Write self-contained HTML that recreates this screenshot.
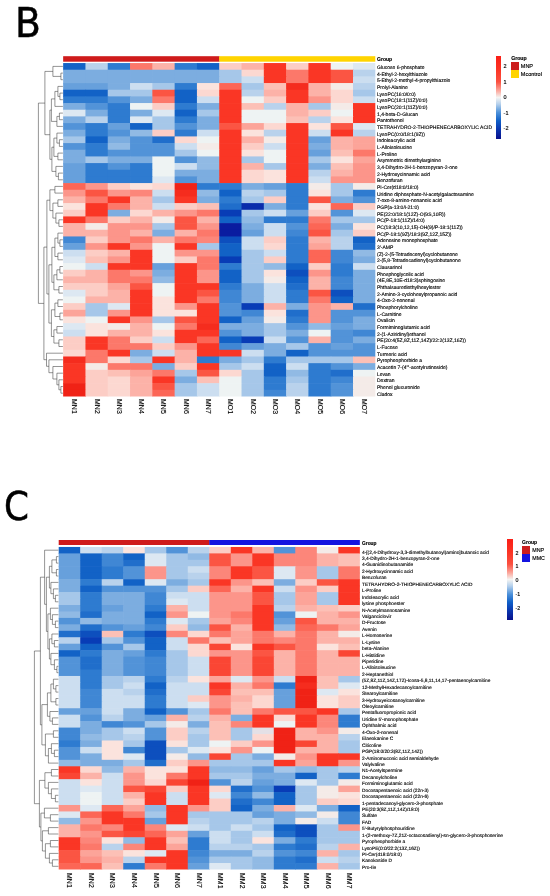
<!DOCTYPE html><html><head><meta charset="utf-8"><title>Heatmaps</title><style>
html,body{margin:0;padding:0;background:#fff}
body{width:550px;height:896px;position:relative;overflow:hidden;font-family:"Liberation Sans",sans-serif;color:#111}
.gb,.hm,.dn,.rl,.gl,.cl,.lg,.tk,.gt,.sw,.big{position:absolute}
.dn{left:0;top:0;pointer-events:none}
.rl div{white-space:nowrap;height:inherit}
.rl{white-space:nowrap;color:#000;-webkit-text-stroke:0.5px #000}.gl{white-space:nowrap;color:#000;-webkit-text-stroke:0.15px #000}
.gl,.gt{font-weight:bold;color:#000}
.cl{white-space:nowrap;line-height:8px;height:8px;transform-origin:0 0;transform:rotate(90deg) translate(0,-4px);color:#000;-webkit-text-stroke:0.12px #000}
.tk,.gt{line-height:8px;height:8px;white-space:nowrap;color:#000;-webkit-text-stroke:0.15px #000}
.lg{background:linear-gradient(to bottom,#fa1e16 0%,#fb3424 16%,#fb5040 31%,#fca99e 42%,#f4f4f2 50%,#b5d0ec 58%,#4e92da 68%,#1060c8 78%,#0a38b0 88%,#08108c 100%)}
.big{font-family:"DejaVu Sans","Liberation Sans",sans-serif;font-size:42px;line-height:42px;-webkit-text-stroke:0.5px #000;color:#000;transform-origin:0 0;white-space:nowrap}
</style></head><body>
<div class="big" style="left:15.3px;top:2.1px;font-size:41.5px;transform:scaleX(0.91)">B</div>
<div class="big" style="left:3.7px;top:485.0px;font-size:39.5px;transform:scaleX(0.905)">C</div>
<svg class="dn" width="550" height="896" viewBox="0 0 550 896"><rect x="63.15" y="56.20" width="156.38" height="5.50" fill="#cf1b1b"/><rect x="219.22" y="56.20" width="156.07" height="5.50" fill="#ffd400"/><rect x="63.15" y="63.05" width="22.90" height="7.27" fill="#1262c6"/><rect x="85.45" y="63.05" width="22.90" height="7.27" fill="#b9d2ec"/><rect x="107.74" y="63.05" width="22.90" height="7.27" fill="#2e7bd0"/><rect x="130.04" y="63.05" width="22.90" height="7.27" fill="#fc786a"/><rect x="152.34" y="63.05" width="22.90" height="7.27" fill="#fcb2a8"/><rect x="174.63" y="63.05" width="22.90" height="7.27" fill="#2e7bd0"/><rect x="196.93" y="63.05" width="22.90" height="7.27" fill="#1262c6"/><rect x="219.22" y="63.05" width="22.90" height="7.27" fill="#fccdc5"/><rect x="241.52" y="63.05" width="22.90" height="7.27" fill="#fcb2a8"/><rect x="263.82" y="63.05" width="22.90" height="7.27" fill="#fa3625"/><rect x="286.11" y="63.05" width="22.90" height="7.27" fill="#fccdc5"/><rect x="308.41" y="63.05" width="22.90" height="7.27" fill="#fa3625"/><rect x="330.71" y="63.05" width="22.90" height="7.27" fill="#eef3f3"/><rect x="353.00" y="63.05" width="22.30" height="7.27" fill="#dde8f2"/><rect x="63.15" y="69.72" width="22.90" height="7.27" fill="#7cade0"/><rect x="85.45" y="69.72" width="22.90" height="7.27" fill="#7cade0"/><rect x="107.74" y="69.72" width="22.90" height="7.27" fill="#7cade0"/><rect x="130.04" y="69.72" width="22.90" height="7.27" fill="#7cade0"/><rect x="152.34" y="69.72" width="22.90" height="7.27" fill="#7cade0"/><rect x="174.63" y="69.72" width="22.90" height="7.27" fill="#7cade0"/><rect x="196.93" y="69.72" width="22.90" height="7.27" fill="#7cade0"/><rect x="219.22" y="69.72" width="22.90" height="7.27" fill="#a6c7e9"/><rect x="241.52" y="69.72" width="22.90" height="7.27" fill="#fcd8d1"/><rect x="263.82" y="69.72" width="22.90" height="7.27" fill="#fa3625"/><rect x="286.11" y="69.72" width="22.90" height="7.27" fill="#fc786a"/><rect x="308.41" y="69.72" width="22.90" height="7.27" fill="#fa3625"/><rect x="330.71" y="69.72" width="22.90" height="7.27" fill="#fb5543"/><rect x="353.00" y="69.72" width="22.30" height="7.27" fill="#b9d2ec"/><rect x="63.15" y="76.39" width="22.90" height="7.27" fill="#7cade0"/><rect x="85.45" y="76.39" width="22.90" height="7.27" fill="#7cade0"/><rect x="107.74" y="76.39" width="22.90" height="7.27" fill="#7cade0"/><rect x="130.04" y="76.39" width="22.90" height="7.27" fill="#7cade0"/><rect x="152.34" y="76.39" width="22.90" height="7.27" fill="#7cade0"/><rect x="174.63" y="76.39" width="22.90" height="7.27" fill="#7cade0"/><rect x="196.93" y="76.39" width="22.90" height="7.27" fill="#7cade0"/><rect x="219.22" y="76.39" width="22.90" height="7.27" fill="#a6c7e9"/><rect x="241.52" y="76.39" width="22.90" height="7.27" fill="#ccdef0"/><rect x="263.82" y="76.39" width="22.90" height="7.27" fill="#fa3625"/><rect x="286.11" y="76.39" width="22.90" height="7.27" fill="#fc786a"/><rect x="308.41" y="76.39" width="22.90" height="7.27" fill="#fa3625"/><rect x="330.71" y="76.39" width="22.90" height="7.27" fill="#fb5543"/><rect x="353.00" y="76.39" width="22.30" height="7.27" fill="#ccdef0"/><rect x="63.15" y="83.06" width="22.90" height="7.27" fill="#67a0dc"/><rect x="85.45" y="83.06" width="22.90" height="7.27" fill="#67a0dc"/><rect x="107.74" y="83.06" width="22.90" height="7.27" fill="#7cade0"/><rect x="130.04" y="83.06" width="22.90" height="7.27" fill="#ccdef0"/><rect x="152.34" y="83.06" width="22.90" height="7.27" fill="#a6c7e9"/><rect x="174.63" y="83.06" width="22.90" height="7.27" fill="#2e7bd0"/><rect x="196.93" y="83.06" width="22.90" height="7.27" fill="#fbe3dd"/><rect x="219.22" y="83.06" width="22.90" height="7.27" fill="#fc6656"/><rect x="241.52" y="83.06" width="22.90" height="7.27" fill="#a6c7e9"/><rect x="263.82" y="83.06" width="22.90" height="7.27" fill="#fcc0b6"/><rect x="286.11" y="83.06" width="22.90" height="7.27" fill="#f52c1e"/><rect x="308.41" y="83.06" width="22.90" height="7.27" fill="#fcb2a8"/><rect x="330.71" y="83.06" width="22.90" height="7.27" fill="#f4ebe8"/><rect x="353.00" y="83.06" width="22.30" height="7.27" fill="#b9d2ec"/><rect x="63.15" y="89.73" width="22.90" height="7.27" fill="#1262c6"/><rect x="85.45" y="89.73" width="22.90" height="7.27" fill="#1262c6"/><rect x="107.74" y="89.73" width="22.90" height="7.27" fill="#a6c7e9"/><rect x="130.04" y="89.73" width="22.90" height="7.27" fill="#a6c7e9"/><rect x="152.34" y="89.73" width="22.90" height="7.27" fill="#fb5543"/><rect x="174.63" y="89.73" width="22.90" height="7.27" fill="#1262c6"/><rect x="196.93" y="89.73" width="22.90" height="7.27" fill="#fcd8d1"/><rect x="219.22" y="89.73" width="22.90" height="7.27" fill="#fa3625"/><rect x="241.52" y="89.73" width="22.90" height="7.27" fill="#b9d2ec"/><rect x="263.82" y="89.73" width="22.90" height="7.27" fill="#fcb2a8"/><rect x="286.11" y="89.73" width="22.90" height="7.27" fill="#fa3625"/><rect x="308.41" y="89.73" width="22.90" height="7.27" fill="#fcb2a8"/><rect x="330.71" y="89.73" width="22.90" height="7.27" fill="#fcd8d1"/><rect x="353.00" y="89.73" width="22.30" height="7.27" fill="#a6c7e9"/><rect x="63.15" y="96.39" width="22.90" height="7.27" fill="#2e7bd0"/><rect x="85.45" y="96.39" width="22.90" height="7.27" fill="#2e7bd0"/><rect x="107.74" y="96.39" width="22.90" height="7.27" fill="#5293d8"/><rect x="130.04" y="96.39" width="22.90" height="7.27" fill="#7cade0"/><rect x="152.34" y="96.39" width="22.90" height="7.27" fill="#fc786a"/><rect x="174.63" y="96.39" width="22.90" height="7.27" fill="#1262c6"/><rect x="196.93" y="96.39" width="22.90" height="7.27" fill="#ccdef0"/><rect x="219.22" y="96.39" width="22.90" height="7.27" fill="#fa3625"/><rect x="241.52" y="96.39" width="22.90" height="7.27" fill="#eef3f3"/><rect x="263.82" y="96.39" width="22.90" height="7.27" fill="#fccdc5"/><rect x="286.11" y="96.39" width="22.90" height="7.27" fill="#fa3625"/><rect x="308.41" y="96.39" width="22.90" height="7.27" fill="#fc958a"/><rect x="330.71" y="96.39" width="22.90" height="7.27" fill="#fcd8d1"/><rect x="353.00" y="96.39" width="22.30" height="7.27" fill="#ccdef0"/><rect x="63.15" y="103.06" width="22.90" height="7.27" fill="#7cade0"/><rect x="85.45" y="103.06" width="22.90" height="7.27" fill="#5293d8"/><rect x="107.74" y="103.06" width="22.90" height="7.27" fill="#2e7bd0"/><rect x="130.04" y="103.06" width="22.90" height="7.27" fill="#eef3f3"/><rect x="152.34" y="103.06" width="22.90" height="7.27" fill="#fccdc5"/><rect x="174.63" y="103.06" width="22.90" height="7.27" fill="#2e7bd0"/><rect x="196.93" y="103.06" width="22.90" height="7.27" fill="#7cade0"/><rect x="219.22" y="103.06" width="22.90" height="7.27" fill="#fa3625"/><rect x="241.52" y="103.06" width="22.90" height="7.27" fill="#fcc0b6"/><rect x="263.82" y="103.06" width="22.90" height="7.27" fill="#b9d2ec"/><rect x="286.11" y="103.06" width="22.90" height="7.27" fill="#fcb2a8"/><rect x="308.41" y="103.06" width="22.90" height="7.27" fill="#a6c7e9"/><rect x="330.71" y="103.06" width="22.90" height="7.27" fill="#f4ebe8"/><rect x="353.00" y="103.06" width="22.30" height="7.27" fill="#fa3625"/><rect x="63.15" y="109.73" width="22.90" height="7.27" fill="#dde8f2"/><rect x="85.45" y="109.73" width="22.90" height="7.27" fill="#7cade0"/><rect x="107.74" y="109.73" width="22.90" height="7.27" fill="#2e7bd0"/><rect x="130.04" y="109.73" width="22.90" height="7.27" fill="#7cade0"/><rect x="152.34" y="109.73" width="22.90" height="7.27" fill="#dde8f2"/><rect x="174.63" y="109.73" width="22.90" height="7.27" fill="#1262c6"/><rect x="196.93" y="109.73" width="22.90" height="7.27" fill="#a6c7e9"/><rect x="219.22" y="109.73" width="22.90" height="7.27" fill="#fa3625"/><rect x="241.52" y="109.73" width="22.90" height="7.27" fill="#eef3f3"/><rect x="263.82" y="109.73" width="22.90" height="7.27" fill="#eef3f3"/><rect x="286.11" y="109.73" width="22.90" height="7.27" fill="#fcb2a8"/><rect x="308.41" y="109.73" width="22.90" height="7.27" fill="#fccdc5"/><rect x="330.71" y="109.73" width="22.90" height="7.27" fill="#eef3f3"/><rect x="353.00" y="109.73" width="22.30" height="7.27" fill="#fa3625"/><rect x="63.15" y="116.40" width="22.90" height="7.27" fill="#7cade0"/><rect x="85.45" y="116.40" width="22.90" height="7.27" fill="#b9d2ec"/><rect x="107.74" y="116.40" width="22.90" height="7.27" fill="#2e7bd0"/><rect x="130.04" y="116.40" width="22.90" height="7.27" fill="#dde8f2"/><rect x="152.34" y="116.40" width="22.90" height="7.27" fill="#a6c7e9"/><rect x="174.63" y="116.40" width="22.90" height="7.27" fill="#2e7bd0"/><rect x="196.93" y="116.40" width="22.90" height="7.27" fill="#7cade0"/><rect x="219.22" y="116.40" width="22.90" height="7.27" fill="#fa3625"/><rect x="241.52" y="116.40" width="22.90" height="7.27" fill="#eef3f3"/><rect x="263.82" y="116.40" width="22.90" height="7.27" fill="#eef3f3"/><rect x="286.11" y="116.40" width="22.90" height="7.27" fill="#fcc0b6"/><rect x="308.41" y="116.40" width="22.90" height="7.27" fill="#b9d2ec"/><rect x="330.71" y="116.40" width="22.90" height="7.27" fill="#fbe3dd"/><rect x="353.00" y="116.40" width="22.30" height="7.27" fill="#fa3625"/><rect x="63.15" y="123.07" width="22.90" height="7.27" fill="#5293d8"/><rect x="85.45" y="123.07" width="22.90" height="7.27" fill="#2e7bd0"/><rect x="107.74" y="123.07" width="22.90" height="7.27" fill="#67a0dc"/><rect x="130.04" y="123.07" width="22.90" height="7.27" fill="#1262c6"/><rect x="152.34" y="123.07" width="22.90" height="7.27" fill="#a6c7e9"/><rect x="174.63" y="123.07" width="22.90" height="7.27" fill="#5293d8"/><rect x="196.93" y="123.07" width="22.90" height="7.27" fill="#7cade0"/><rect x="219.22" y="123.07" width="22.90" height="7.27" fill="#fb5543"/><rect x="241.52" y="123.07" width="22.90" height="7.27" fill="#fca499"/><rect x="263.82" y="123.07" width="22.90" height="7.27" fill="#fcd8d1"/><rect x="286.11" y="123.07" width="22.90" height="7.27" fill="#fa3625"/><rect x="308.41" y="123.07" width="22.90" height="7.27" fill="#fbe3dd"/><rect x="330.71" y="123.07" width="22.90" height="7.27" fill="#fb5543"/><rect x="353.00" y="123.07" width="22.30" height="7.27" fill="#dde8f2"/><rect x="63.15" y="129.74" width="22.90" height="7.27" fill="#7cade0"/><rect x="85.45" y="129.74" width="22.90" height="7.27" fill="#2e7bd0"/><rect x="107.74" y="129.74" width="22.90" height="7.27" fill="#5293d8"/><rect x="130.04" y="129.74" width="22.90" height="7.27" fill="#91bae4"/><rect x="152.34" y="129.74" width="22.90" height="7.27" fill="#fccdc5"/><rect x="174.63" y="129.74" width="22.90" height="7.27" fill="#2e7bd0"/><rect x="196.93" y="129.74" width="22.90" height="7.27" fill="#ccdef0"/><rect x="219.22" y="129.74" width="22.90" height="7.27" fill="#fa3625"/><rect x="241.52" y="129.74" width="22.90" height="7.27" fill="#fbe3dd"/><rect x="263.82" y="129.74" width="22.90" height="7.27" fill="#b9d2ec"/><rect x="286.11" y="129.74" width="22.90" height="7.27" fill="#fa3625"/><rect x="308.41" y="129.74" width="22.90" height="7.27" fill="#ccdef0"/><rect x="330.71" y="129.74" width="22.90" height="7.27" fill="#fa3625"/><rect x="353.00" y="129.74" width="22.30" height="7.27" fill="#b9d2ec"/><rect x="63.15" y="136.41" width="22.90" height="7.27" fill="#a6c7e9"/><rect x="85.45" y="136.41" width="22.90" height="7.27" fill="#1262c6"/><rect x="107.74" y="136.41" width="22.90" height="7.27" fill="#7cade0"/><rect x="130.04" y="136.41" width="22.90" height="7.27" fill="#5293d8"/><rect x="152.34" y="136.41" width="22.90" height="7.27" fill="#206ecb"/><rect x="174.63" y="136.41" width="22.90" height="7.27" fill="#fcd8d1"/><rect x="196.93" y="136.41" width="22.90" height="7.27" fill="#eef3f3"/><rect x="219.22" y="136.41" width="22.90" height="7.27" fill="#fa3625"/><rect x="241.52" y="136.41" width="22.90" height="7.27" fill="#fcb2a8"/><rect x="263.82" y="136.41" width="22.90" height="7.27" fill="#f4ebe8"/><rect x="286.11" y="136.41" width="22.90" height="7.27" fill="#fa3625"/><rect x="308.41" y="136.41" width="22.90" height="7.27" fill="#67a0dc"/><rect x="330.71" y="136.41" width="22.90" height="7.27" fill="#fcb2a8"/><rect x="353.00" y="136.41" width="22.30" height="7.27" fill="#fca499"/><rect x="63.15" y="143.08" width="22.90" height="7.27" fill="#5293d8"/><rect x="85.45" y="143.08" width="22.90" height="7.27" fill="#2e7bd0"/><rect x="107.74" y="143.08" width="22.90" height="7.27" fill="#91bae4"/><rect x="130.04" y="143.08" width="22.90" height="7.27" fill="#5293d8"/><rect x="152.34" y="143.08" width="22.90" height="7.27" fill="#5293d8"/><rect x="174.63" y="143.08" width="22.90" height="7.27" fill="#ccdef0"/><rect x="196.93" y="143.08" width="22.90" height="7.27" fill="#f4ebe8"/><rect x="219.22" y="143.08" width="22.90" height="7.27" fill="#fa3625"/><rect x="241.52" y="143.08" width="22.90" height="7.27" fill="#fccdc5"/><rect x="263.82" y="143.08" width="22.90" height="7.27" fill="#ccdef0"/><rect x="286.11" y="143.08" width="22.90" height="7.27" fill="#fa3625"/><rect x="308.41" y="143.08" width="22.90" height="7.27" fill="#7cade0"/><rect x="330.71" y="143.08" width="22.90" height="7.27" fill="#fcb2a8"/><rect x="353.00" y="143.08" width="22.30" height="7.27" fill="#fca499"/><rect x="63.15" y="149.75" width="22.90" height="7.27" fill="#7cade0"/><rect x="85.45" y="149.75" width="22.90" height="7.27" fill="#2e7bd0"/><rect x="107.74" y="149.75" width="22.90" height="7.27" fill="#5293d8"/><rect x="130.04" y="149.75" width="22.90" height="7.27" fill="#5293d8"/><rect x="152.34" y="149.75" width="22.90" height="7.27" fill="#5293d8"/><rect x="174.63" y="149.75" width="22.90" height="7.27" fill="#a6c7e9"/><rect x="196.93" y="149.75" width="22.90" height="7.27" fill="#eef3f3"/><rect x="219.22" y="149.75" width="22.90" height="7.27" fill="#fa3625"/><rect x="241.52" y="149.75" width="22.90" height="7.27" fill="#fbe3dd"/><rect x="263.82" y="149.75" width="22.90" height="7.27" fill="#eef3f3"/><rect x="286.11" y="149.75" width="22.90" height="7.27" fill="#fa3625"/><rect x="308.41" y="149.75" width="22.90" height="7.27" fill="#67a0dc"/><rect x="330.71" y="149.75" width="22.90" height="7.27" fill="#fcc0b6"/><rect x="353.00" y="149.75" width="22.30" height="7.27" fill="#fc786a"/><rect x="63.15" y="156.42" width="22.90" height="7.27" fill="#7cade0"/><rect x="85.45" y="156.42" width="22.90" height="7.27" fill="#a6c7e9"/><rect x="107.74" y="156.42" width="22.90" height="7.27" fill="#7cade0"/><rect x="130.04" y="156.42" width="22.90" height="7.27" fill="#7cade0"/><rect x="152.34" y="156.42" width="22.90" height="7.27" fill="#eef3f3"/><rect x="174.63" y="156.42" width="22.90" height="7.27" fill="#5293d8"/><rect x="196.93" y="156.42" width="22.90" height="7.27" fill="#91bae4"/><rect x="219.22" y="156.42" width="22.90" height="7.27" fill="#fa3625"/><rect x="241.52" y="156.42" width="22.90" height="7.27" fill="#a6c7e9"/><rect x="263.82" y="156.42" width="22.90" height="7.27" fill="#eef3f3"/><rect x="286.11" y="156.42" width="22.90" height="7.27" fill="#fa3625"/><rect x="308.41" y="156.42" width="22.90" height="7.27" fill="#a6c7e9"/><rect x="330.71" y="156.42" width="22.90" height="7.27" fill="#fbe3dd"/><rect x="353.00" y="156.42" width="22.30" height="7.27" fill="#fca499"/><rect x="63.15" y="163.08" width="22.90" height="7.27" fill="#67a0dc"/><rect x="85.45" y="163.08" width="22.90" height="7.27" fill="#2e7bd0"/><rect x="107.74" y="163.08" width="22.90" height="7.27" fill="#5293d8"/><rect x="130.04" y="163.08" width="22.90" height="7.27" fill="#2e7bd0"/><rect x="152.34" y="163.08" width="22.90" height="7.27" fill="#eef3f3"/><rect x="174.63" y="163.08" width="22.90" height="7.27" fill="#ccdef0"/><rect x="196.93" y="163.08" width="22.90" height="7.27" fill="#91bae4"/><rect x="219.22" y="163.08" width="22.90" height="7.27" fill="#fa3625"/><rect x="241.52" y="163.08" width="22.90" height="7.27" fill="#fcb2a8"/><rect x="263.82" y="163.08" width="22.90" height="7.27" fill="#a6c7e9"/><rect x="286.11" y="163.08" width="22.90" height="7.27" fill="#fa3625"/><rect x="308.41" y="163.08" width="22.90" height="7.27" fill="#7cade0"/><rect x="330.71" y="163.08" width="22.90" height="7.27" fill="#fcc0b6"/><rect x="353.00" y="163.08" width="22.30" height="7.27" fill="#fc958a"/><rect x="63.15" y="169.75" width="22.90" height="7.27" fill="#67a0dc"/><rect x="85.45" y="169.75" width="22.90" height="7.27" fill="#2e7bd0"/><rect x="107.74" y="169.75" width="22.90" height="7.27" fill="#2e7bd0"/><rect x="130.04" y="169.75" width="22.90" height="7.27" fill="#2e7bd0"/><rect x="152.34" y="169.75" width="22.90" height="7.27" fill="#eef3f3"/><rect x="174.63" y="169.75" width="22.90" height="7.27" fill="#7cade0"/><rect x="196.93" y="169.75" width="22.90" height="7.27" fill="#7cade0"/><rect x="219.22" y="169.75" width="22.90" height="7.27" fill="#fa3625"/><rect x="241.52" y="169.75" width="22.90" height="7.27" fill="#fcd8d1"/><rect x="263.82" y="169.75" width="22.90" height="7.27" fill="#fbe3dd"/><rect x="286.11" y="169.75" width="22.90" height="7.27" fill="#fa3625"/><rect x="308.41" y="169.75" width="22.90" height="7.27" fill="#b9d2ec"/><rect x="330.71" y="169.75" width="22.90" height="7.27" fill="#fcb2a8"/><rect x="353.00" y="169.75" width="22.30" height="7.27" fill="#fc958a"/><rect x="63.15" y="176.42" width="22.90" height="7.27" fill="#67a0dc"/><rect x="85.45" y="176.42" width="22.90" height="7.27" fill="#2e7bd0"/><rect x="107.74" y="176.42" width="22.90" height="7.27" fill="#2e7bd0"/><rect x="130.04" y="176.42" width="22.90" height="7.27" fill="#2e7bd0"/><rect x="152.34" y="176.42" width="22.90" height="7.27" fill="#dde8f2"/><rect x="174.63" y="176.42" width="22.90" height="7.27" fill="#5293d8"/><rect x="196.93" y="176.42" width="22.90" height="7.27" fill="#7cade0"/><rect x="219.22" y="176.42" width="22.90" height="7.27" fill="#fa3625"/><rect x="241.52" y="176.42" width="22.90" height="7.27" fill="#fcd8d1"/><rect x="263.82" y="176.42" width="22.90" height="7.27" fill="#fbe3dd"/><rect x="286.11" y="176.42" width="22.90" height="7.27" fill="#fa3625"/><rect x="308.41" y="176.42" width="22.90" height="7.27" fill="#ccdef0"/><rect x="330.71" y="176.42" width="22.90" height="7.27" fill="#fc958a"/><rect x="353.00" y="176.42" width="22.30" height="7.27" fill="#fc958a"/><rect x="63.15" y="183.09" width="22.90" height="7.27" fill="#fc6656"/><rect x="85.45" y="183.09" width="22.90" height="7.27" fill="#fc958a"/><rect x="107.74" y="183.09" width="22.90" height="7.27" fill="#fccdc5"/><rect x="130.04" y="183.09" width="22.90" height="7.27" fill="#fbe3dd"/><rect x="152.34" y="183.09" width="22.90" height="7.27" fill="#fcd8d1"/><rect x="174.63" y="183.09" width="22.90" height="7.27" fill="#f02216"/><rect x="196.93" y="183.09" width="22.90" height="7.27" fill="#2e7bd0"/><rect x="219.22" y="183.09" width="22.90" height="7.27" fill="#2e7bd0"/><rect x="241.52" y="183.09" width="22.90" height="7.27" fill="#7cade0"/><rect x="263.82" y="183.09" width="22.90" height="7.27" fill="#67a0dc"/><rect x="286.11" y="183.09" width="22.90" height="7.27" fill="#2e7bd0"/><rect x="308.41" y="183.09" width="22.90" height="7.27" fill="#f4ebe8"/><rect x="330.71" y="183.09" width="22.90" height="7.27" fill="#a6c7e9"/><rect x="353.00" y="183.09" width="22.30" height="7.27" fill="#f4ebe8"/><rect x="63.15" y="189.76" width="22.90" height="7.27" fill="#fc958a"/><rect x="85.45" y="189.76" width="22.90" height="7.27" fill="#fb5543"/><rect x="107.74" y="189.76" width="22.90" height="7.27" fill="#fc958a"/><rect x="130.04" y="189.76" width="22.90" height="7.27" fill="#fc867a"/><rect x="152.34" y="189.76" width="22.90" height="7.27" fill="#ccdef0"/><rect x="174.63" y="189.76" width="22.90" height="7.27" fill="#f52c1e"/><rect x="196.93" y="189.76" width="22.90" height="7.27" fill="#91bae4"/><rect x="219.22" y="189.76" width="22.90" height="7.27" fill="#1262c6"/><rect x="241.52" y="189.76" width="22.90" height="7.27" fill="#b9d2ec"/><rect x="263.82" y="189.76" width="22.90" height="7.27" fill="#a6c7e9"/><rect x="286.11" y="189.76" width="22.90" height="7.27" fill="#2e7bd0"/><rect x="308.41" y="189.76" width="22.90" height="7.27" fill="#fbe3dd"/><rect x="330.71" y="189.76" width="22.90" height="7.27" fill="#a6c7e9"/><rect x="353.00" y="189.76" width="22.30" height="7.27" fill="#2e7bd0"/><rect x="63.15" y="196.43" width="22.90" height="7.27" fill="#fcb2a8"/><rect x="85.45" y="196.43" width="22.90" height="7.27" fill="#fc786a"/><rect x="107.74" y="196.43" width="22.90" height="7.27" fill="#fa3625"/><rect x="130.04" y="196.43" width="22.90" height="7.27" fill="#fcb2a8"/><rect x="152.34" y="196.43" width="22.90" height="7.27" fill="#a6c7e9"/><rect x="174.63" y="196.43" width="22.90" height="7.27" fill="#fa3625"/><rect x="196.93" y="196.43" width="22.90" height="7.27" fill="#7cade0"/><rect x="219.22" y="196.43" width="22.90" height="7.27" fill="#2e7bd0"/><rect x="241.52" y="196.43" width="22.90" height="7.27" fill="#a6c7e9"/><rect x="263.82" y="196.43" width="22.90" height="7.27" fill="#fccdc5"/><rect x="286.11" y="196.43" width="22.90" height="7.27" fill="#2e7bd0"/><rect x="308.41" y="196.43" width="22.90" height="7.27" fill="#fb5543"/><rect x="330.71" y="196.43" width="22.90" height="7.27" fill="#7cade0"/><rect x="353.00" y="196.43" width="22.30" height="7.27" fill="#5293d8"/><rect x="63.15" y="203.10" width="22.90" height="7.27" fill="#fbe3dd"/><rect x="85.45" y="203.10" width="22.90" height="7.27" fill="#fa3625"/><rect x="107.74" y="203.10" width="22.90" height="7.27" fill="#fc786a"/><rect x="130.04" y="203.10" width="22.90" height="7.27" fill="#fcb2a8"/><rect x="152.34" y="203.10" width="22.90" height="7.27" fill="#ccdef0"/><rect x="174.63" y="203.10" width="22.90" height="7.27" fill="#fccdc5"/><rect x="196.93" y="203.10" width="22.90" height="7.27" fill="#fcc0b6"/><rect x="219.22" y="203.10" width="22.90" height="7.27" fill="#206ecb"/><rect x="241.52" y="203.10" width="22.90" height="7.27" fill="#092cab"/><rect x="263.82" y="203.10" width="22.90" height="7.27" fill="#7cade0"/><rect x="286.11" y="203.10" width="22.90" height="7.27" fill="#2e7bd0"/><rect x="308.41" y="203.10" width="22.90" height="7.27" fill="#fbe3dd"/><rect x="330.71" y="203.10" width="22.90" height="7.27" fill="#fc6656"/><rect x="353.00" y="203.10" width="22.30" height="7.27" fill="#fccdc5"/><rect x="63.15" y="209.77" width="22.90" height="7.27" fill="#fccdc5"/><rect x="85.45" y="209.77" width="22.90" height="7.27" fill="#fa3625"/><rect x="107.74" y="209.77" width="22.90" height="7.27" fill="#7cade0"/><rect x="130.04" y="209.77" width="22.90" height="7.27" fill="#fcd8d1"/><rect x="152.34" y="209.77" width="22.90" height="7.27" fill="#fcb2a8"/><rect x="174.63" y="209.77" width="22.90" height="7.27" fill="#fc958a"/><rect x="196.93" y="209.77" width="22.90" height="7.27" fill="#fc786a"/><rect x="219.22" y="209.77" width="22.90" height="7.27" fill="#083cb6"/><rect x="241.52" y="209.77" width="22.90" height="7.27" fill="#a6c7e9"/><rect x="263.82" y="209.77" width="22.90" height="7.27" fill="#ccdef0"/><rect x="286.11" y="209.77" width="22.90" height="7.27" fill="#67a0dc"/><rect x="308.41" y="209.77" width="22.90" height="7.27" fill="#fccdc5"/><rect x="330.71" y="209.77" width="22.90" height="7.27" fill="#5293d8"/><rect x="353.00" y="209.77" width="22.30" height="7.27" fill="#dde8f2"/><rect x="63.15" y="216.44" width="22.90" height="7.27" fill="#fa3625"/><rect x="85.45" y="216.44" width="22.90" height="7.27" fill="#fc786a"/><rect x="107.74" y="216.44" width="22.90" height="7.27" fill="#fccdc5"/><rect x="130.04" y="216.44" width="22.90" height="7.27" fill="#fcb2a8"/><rect x="152.34" y="216.44" width="22.90" height="7.27" fill="#f4ebe8"/><rect x="174.63" y="216.44" width="22.90" height="7.27" fill="#fb5543"/><rect x="196.93" y="216.44" width="22.90" height="7.27" fill="#fcb2a8"/><rect x="219.22" y="216.44" width="22.90" height="7.27" fill="#1262c6"/><rect x="241.52" y="216.44" width="22.90" height="7.27" fill="#91bae4"/><rect x="263.82" y="216.44" width="22.90" height="7.27" fill="#2e7bd0"/><rect x="286.11" y="216.44" width="22.90" height="7.27" fill="#2e7bd0"/><rect x="308.41" y="216.44" width="22.90" height="7.27" fill="#fc786a"/><rect x="330.71" y="216.44" width="22.90" height="7.27" fill="#a6c7e9"/><rect x="353.00" y="216.44" width="22.30" height="7.27" fill="#a6c7e9"/><rect x="63.15" y="223.11" width="22.90" height="7.27" fill="#fcb2a8"/><rect x="85.45" y="223.11" width="22.90" height="7.27" fill="#f4ebe8"/><rect x="107.74" y="223.11" width="22.90" height="7.27" fill="#fc958a"/><rect x="130.04" y="223.11" width="22.90" height="7.27" fill="#fc958a"/><rect x="152.34" y="223.11" width="22.90" height="7.27" fill="#a6c7e9"/><rect x="174.63" y="223.11" width="22.90" height="7.27" fill="#fb5543"/><rect x="196.93" y="223.11" width="22.90" height="7.27" fill="#fc958a"/><rect x="219.22" y="223.11" width="22.90" height="7.27" fill="#0a1ca0"/><rect x="241.52" y="223.11" width="22.90" height="7.27" fill="#7cade0"/><rect x="263.82" y="223.11" width="22.90" height="7.27" fill="#ccdef0"/><rect x="286.11" y="223.11" width="22.90" height="7.27" fill="#5293d8"/><rect x="308.41" y="223.11" width="22.90" height="7.27" fill="#fc6656"/><rect x="330.71" y="223.11" width="22.90" height="7.27" fill="#7cade0"/><rect x="353.00" y="223.11" width="22.30" height="7.27" fill="#fbe3dd"/><rect x="63.15" y="229.77" width="22.90" height="7.27" fill="#fcb2a8"/><rect x="85.45" y="229.77" width="22.90" height="7.27" fill="#fcb2a8"/><rect x="107.74" y="229.77" width="22.90" height="7.27" fill="#fc958a"/><rect x="130.04" y="229.77" width="22.90" height="7.27" fill="#fcb2a8"/><rect x="152.34" y="229.77" width="22.90" height="7.27" fill="#7cade0"/><rect x="174.63" y="229.77" width="22.90" height="7.27" fill="#fcb2a8"/><rect x="196.93" y="229.77" width="22.90" height="7.27" fill="#fc786a"/><rect x="219.22" y="229.77" width="22.90" height="7.27" fill="#0a1ca0"/><rect x="241.52" y="229.77" width="22.90" height="7.27" fill="#67a0dc"/><rect x="263.82" y="229.77" width="22.90" height="7.27" fill="#ccdef0"/><rect x="286.11" y="229.77" width="22.90" height="7.27" fill="#4087d4"/><rect x="308.41" y="229.77" width="22.90" height="7.27" fill="#fb5543"/><rect x="330.71" y="229.77" width="22.90" height="7.27" fill="#a6c7e9"/><rect x="353.00" y="229.77" width="22.30" height="7.27" fill="#fccdc5"/><rect x="63.15" y="236.44" width="22.90" height="7.27" fill="#4087d4"/><rect x="85.45" y="236.44" width="22.90" height="7.27" fill="#fccdc5"/><rect x="107.74" y="236.44" width="22.90" height="7.27" fill="#fc958a"/><rect x="130.04" y="236.44" width="22.90" height="7.27" fill="#fc786a"/><rect x="152.34" y="236.44" width="22.90" height="7.27" fill="#fcb2a8"/><rect x="174.63" y="236.44" width="22.90" height="7.27" fill="#fc786a"/><rect x="196.93" y="236.44" width="22.90" height="7.27" fill="#fc867a"/><rect x="219.22" y="236.44" width="22.90" height="7.27" fill="#0d4fbe"/><rect x="241.52" y="236.44" width="22.90" height="7.27" fill="#ccdef0"/><rect x="263.82" y="236.44" width="22.90" height="7.27" fill="#fccdc5"/><rect x="286.11" y="236.44" width="22.90" height="7.27" fill="#2e7bd0"/><rect x="308.41" y="236.44" width="22.90" height="7.27" fill="#fcb2a8"/><rect x="330.71" y="236.44" width="22.90" height="7.27" fill="#b9d2ec"/><rect x="353.00" y="236.44" width="22.30" height="7.27" fill="#1262c6"/><rect x="63.15" y="243.11" width="22.90" height="7.27" fill="#67a0dc"/><rect x="85.45" y="243.11" width="22.90" height="7.27" fill="#fc958a"/><rect x="107.74" y="243.11" width="22.90" height="7.27" fill="#fa3625"/><rect x="130.04" y="243.11" width="22.90" height="7.27" fill="#fc958a"/><rect x="152.34" y="243.11" width="22.90" height="7.27" fill="#eef3f3"/><rect x="174.63" y="243.11" width="22.90" height="7.27" fill="#fa3625"/><rect x="196.93" y="243.11" width="22.90" height="7.27" fill="#a6c7e9"/><rect x="219.22" y="243.11" width="22.90" height="7.27" fill="#1262c6"/><rect x="241.52" y="243.11" width="22.90" height="7.27" fill="#ccdef0"/><rect x="263.82" y="243.11" width="22.90" height="7.27" fill="#fcd8d1"/><rect x="286.11" y="243.11" width="22.90" height="7.27" fill="#2e7bd0"/><rect x="308.41" y="243.11" width="22.90" height="7.27" fill="#fca499"/><rect x="330.71" y="243.11" width="22.90" height="7.27" fill="#b9d2ec"/><rect x="353.00" y="243.11" width="22.30" height="7.27" fill="#206ecb"/><rect x="63.15" y="249.78" width="22.90" height="7.27" fill="#ccdef0"/><rect x="85.45" y="249.78" width="22.90" height="7.27" fill="#fccdc5"/><rect x="107.74" y="249.78" width="22.90" height="7.27" fill="#fcb2a8"/><rect x="130.04" y="249.78" width="22.90" height="7.27" fill="#fa3625"/><rect x="152.34" y="249.78" width="22.90" height="7.27" fill="#eef3f3"/><rect x="174.63" y="249.78" width="22.90" height="7.27" fill="#fc958a"/><rect x="196.93" y="249.78" width="22.90" height="7.27" fill="#fc958a"/><rect x="219.22" y="249.78" width="22.90" height="7.27" fill="#1262c6"/><rect x="241.52" y="249.78" width="22.90" height="7.27" fill="#a6c7e9"/><rect x="263.82" y="249.78" width="22.90" height="7.27" fill="#ccdef0"/><rect x="286.11" y="249.78" width="22.90" height="7.27" fill="#2e7bd0"/><rect x="308.41" y="249.78" width="22.90" height="7.27" fill="#fc6656"/><rect x="330.71" y="249.78" width="22.90" height="7.27" fill="#4087d4"/><rect x="353.00" y="249.78" width="22.30" height="7.27" fill="#91bae4"/><rect x="63.15" y="256.45" width="22.90" height="7.27" fill="#dde8f2"/><rect x="85.45" y="256.45" width="22.90" height="7.27" fill="#fcc0b6"/><rect x="107.74" y="256.45" width="22.90" height="7.27" fill="#fc958a"/><rect x="130.04" y="256.45" width="22.90" height="7.27" fill="#fa3625"/><rect x="152.34" y="256.45" width="22.90" height="7.27" fill="#eef3f3"/><rect x="174.63" y="256.45" width="22.90" height="7.27" fill="#fccdc5"/><rect x="196.93" y="256.45" width="22.90" height="7.27" fill="#fc786a"/><rect x="219.22" y="256.45" width="22.90" height="7.27" fill="#083cb6"/><rect x="241.52" y="256.45" width="22.90" height="7.27" fill="#a6c7e9"/><rect x="263.82" y="256.45" width="22.90" height="7.27" fill="#fccdc5"/><rect x="286.11" y="256.45" width="22.90" height="7.27" fill="#2e7bd0"/><rect x="308.41" y="256.45" width="22.90" height="7.27" fill="#fc6656"/><rect x="330.71" y="256.45" width="22.90" height="7.27" fill="#4087d4"/><rect x="353.00" y="256.45" width="22.30" height="7.27" fill="#7cade0"/><rect x="63.15" y="263.12" width="22.90" height="7.27" fill="#eef3f3"/><rect x="85.45" y="263.12" width="22.90" height="7.27" fill="#ccdef0"/><rect x="107.74" y="263.12" width="22.90" height="7.27" fill="#fa3625"/><rect x="130.04" y="263.12" width="22.90" height="7.27" fill="#fa3625"/><rect x="152.34" y="263.12" width="22.90" height="7.27" fill="#67a0dc"/><rect x="174.63" y="263.12" width="22.90" height="7.27" fill="#fa3625"/><rect x="196.93" y="263.12" width="22.90" height="7.27" fill="#fc786a"/><rect x="219.22" y="263.12" width="22.90" height="7.27" fill="#2e7bd0"/><rect x="241.52" y="263.12" width="22.90" height="7.27" fill="#a6c7e9"/><rect x="263.82" y="263.12" width="22.90" height="7.27" fill="#91bae4"/><rect x="286.11" y="263.12" width="22.90" height="7.27" fill="#1262c6"/><rect x="308.41" y="263.12" width="22.90" height="7.27" fill="#fccdc5"/><rect x="330.71" y="263.12" width="22.90" height="7.27" fill="#2e7bd0"/><rect x="353.00" y="263.12" width="22.30" height="7.27" fill="#ccdef0"/><rect x="63.15" y="269.79" width="22.90" height="7.27" fill="#fccdc5"/><rect x="85.45" y="269.79" width="22.90" height="7.27" fill="#fcb2a8"/><rect x="107.74" y="269.79" width="22.90" height="7.27" fill="#fc786a"/><rect x="130.04" y="269.79" width="22.90" height="7.27" fill="#fc958a"/><rect x="152.34" y="269.79" width="22.90" height="7.27" fill="#7cade0"/><rect x="174.63" y="269.79" width="22.90" height="7.27" fill="#fa3625"/><rect x="196.93" y="269.79" width="22.90" height="7.27" fill="#fc958a"/><rect x="219.22" y="269.79" width="22.90" height="7.27" fill="#1262c6"/><rect x="241.52" y="269.79" width="22.90" height="7.27" fill="#a6c7e9"/><rect x="263.82" y="269.79" width="22.90" height="7.27" fill="#fbe3dd"/><rect x="286.11" y="269.79" width="22.90" height="7.27" fill="#0d4fbe"/><rect x="308.41" y="269.79" width="22.90" height="7.27" fill="#fc958a"/><rect x="330.71" y="269.79" width="22.90" height="7.27" fill="#2e7bd0"/><rect x="353.00" y="269.79" width="22.30" height="7.27" fill="#7cade0"/><rect x="63.15" y="276.46" width="22.90" height="7.27" fill="#fcb2a8"/><rect x="85.45" y="276.46" width="22.90" height="7.27" fill="#fcb2a8"/><rect x="107.74" y="276.46" width="22.90" height="7.27" fill="#fc786a"/><rect x="130.04" y="276.46" width="22.90" height="7.27" fill="#fc786a"/><rect x="152.34" y="276.46" width="22.90" height="7.27" fill="#91bae4"/><rect x="174.63" y="276.46" width="22.90" height="7.27" fill="#fa3625"/><rect x="196.93" y="276.46" width="22.90" height="7.27" fill="#fc958a"/><rect x="219.22" y="276.46" width="22.90" height="7.27" fill="#1262c6"/><rect x="241.52" y="276.46" width="22.90" height="7.27" fill="#a6c7e9"/><rect x="263.82" y="276.46" width="22.90" height="7.27" fill="#f4ebe8"/><rect x="286.11" y="276.46" width="22.90" height="7.27" fill="#1262c6"/><rect x="308.41" y="276.46" width="22.90" height="7.27" fill="#fcb2a8"/><rect x="330.71" y="276.46" width="22.90" height="7.27" fill="#4087d4"/><rect x="353.00" y="276.46" width="22.30" height="7.27" fill="#7cade0"/><rect x="63.15" y="283.13" width="22.90" height="7.27" fill="#fccdc5"/><rect x="85.45" y="283.13" width="22.90" height="7.27" fill="#fccdc5"/><rect x="107.74" y="283.13" width="22.90" height="7.27" fill="#fca499"/><rect x="130.04" y="283.13" width="22.90" height="7.27" fill="#fb5543"/><rect x="152.34" y="283.13" width="22.90" height="7.27" fill="#eef3f3"/><rect x="174.63" y="283.13" width="22.90" height="7.27" fill="#fa3625"/><rect x="196.93" y="283.13" width="22.90" height="7.27" fill="#fa3625"/><rect x="219.22" y="283.13" width="22.90" height="7.27" fill="#2e7bd0"/><rect x="241.52" y="283.13" width="22.90" height="7.27" fill="#7cade0"/><rect x="263.82" y="283.13" width="22.90" height="7.27" fill="#ccdef0"/><rect x="286.11" y="283.13" width="22.90" height="7.27" fill="#206ecb"/><rect x="308.41" y="283.13" width="22.90" height="7.27" fill="#fcb2a8"/><rect x="330.71" y="283.13" width="22.90" height="7.27" fill="#4087d4"/><rect x="353.00" y="283.13" width="22.30" height="7.27" fill="#7cade0"/><rect x="63.15" y="289.80" width="22.90" height="7.27" fill="#dde8f2"/><rect x="85.45" y="289.80" width="22.90" height="7.27" fill="#fccdc5"/><rect x="107.74" y="289.80" width="22.90" height="7.27" fill="#fcb2a8"/><rect x="130.04" y="289.80" width="22.90" height="7.27" fill="#fa3625"/><rect x="152.34" y="289.80" width="22.90" height="7.27" fill="#eef3f3"/><rect x="174.63" y="289.80" width="22.90" height="7.27" fill="#fa3625"/><rect x="196.93" y="289.80" width="22.90" height="7.27" fill="#fb5543"/><rect x="219.22" y="289.80" width="22.90" height="7.27" fill="#4087d4"/><rect x="241.52" y="289.80" width="22.90" height="7.27" fill="#7cade0"/><rect x="263.82" y="289.80" width="22.90" height="7.27" fill="#ccdef0"/><rect x="286.11" y="289.80" width="22.90" height="7.27" fill="#2e7bd0"/><rect x="308.41" y="289.80" width="22.90" height="7.27" fill="#fb5543"/><rect x="330.71" y="289.80" width="22.90" height="7.27" fill="#0d4fbe"/><rect x="353.00" y="289.80" width="22.30" height="7.27" fill="#7cade0"/><rect x="63.15" y="296.46" width="22.90" height="7.27" fill="#eef3f3"/><rect x="85.45" y="296.46" width="22.90" height="7.27" fill="#fcb2a8"/><rect x="107.74" y="296.46" width="22.90" height="7.27" fill="#fcb2a8"/><rect x="130.04" y="296.46" width="22.90" height="7.27" fill="#fa3625"/><rect x="152.34" y="296.46" width="22.90" height="7.27" fill="#fbe3dd"/><rect x="174.63" y="296.46" width="22.90" height="7.27" fill="#fa3625"/><rect x="196.93" y="296.46" width="22.90" height="7.27" fill="#fc786a"/><rect x="219.22" y="296.46" width="22.90" height="7.27" fill="#4087d4"/><rect x="241.52" y="296.46" width="22.90" height="7.27" fill="#7cade0"/><rect x="263.82" y="296.46" width="22.90" height="7.27" fill="#ccdef0"/><rect x="286.11" y="296.46" width="22.90" height="7.27" fill="#2e7bd0"/><rect x="308.41" y="296.46" width="22.90" height="7.27" fill="#fc786a"/><rect x="330.71" y="296.46" width="22.90" height="7.27" fill="#1262c6"/><rect x="353.00" y="296.46" width="22.30" height="7.27" fill="#7cade0"/><rect x="63.15" y="303.13" width="22.90" height="7.27" fill="#fccdc5"/><rect x="85.45" y="303.13" width="22.90" height="7.27" fill="#a6c7e9"/><rect x="107.74" y="303.13" width="22.90" height="7.27" fill="#dde8f2"/><rect x="130.04" y="303.13" width="22.90" height="7.27" fill="#fa3625"/><rect x="152.34" y="303.13" width="22.90" height="7.27" fill="#fbe3dd"/><rect x="174.63" y="303.13" width="22.90" height="7.27" fill="#fc958a"/><rect x="196.93" y="303.13" width="22.90" height="7.27" fill="#fa3625"/><rect x="219.22" y="303.13" width="22.90" height="7.27" fill="#5293d8"/><rect x="241.52" y="303.13" width="22.90" height="7.27" fill="#083cb6"/><rect x="263.82" y="303.13" width="22.90" height="7.27" fill="#fcb2a8"/><rect x="286.11" y="303.13" width="22.90" height="7.27" fill="#7cade0"/><rect x="308.41" y="303.13" width="22.90" height="7.27" fill="#fc958a"/><rect x="330.71" y="303.13" width="22.90" height="7.27" fill="#fcb2a8"/><rect x="353.00" y="303.13" width="22.30" height="7.27" fill="#206ecb"/><rect x="63.15" y="309.80" width="22.90" height="7.27" fill="#fca499"/><rect x="85.45" y="309.80" width="22.90" height="7.27" fill="#a6c7e9"/><rect x="107.74" y="309.80" width="22.90" height="7.27" fill="#fc958a"/><rect x="130.04" y="309.80" width="22.90" height="7.27" fill="#fa3625"/><rect x="152.34" y="309.80" width="22.90" height="7.27" fill="#fbe3dd"/><rect x="174.63" y="309.80" width="22.90" height="7.27" fill="#fbe3dd"/><rect x="196.93" y="309.80" width="22.90" height="7.27" fill="#fa3625"/><rect x="219.22" y="309.80" width="22.90" height="7.27" fill="#5293d8"/><rect x="241.52" y="309.80" width="22.90" height="7.27" fill="#4087d4"/><rect x="263.82" y="309.80" width="22.90" height="7.27" fill="#fbe3dd"/><rect x="286.11" y="309.80" width="22.90" height="7.27" fill="#206ecb"/><rect x="308.41" y="309.80" width="22.90" height="7.27" fill="#fc958a"/><rect x="330.71" y="309.80" width="22.90" height="7.27" fill="#5293d8"/><rect x="353.00" y="309.80" width="22.30" height="7.27" fill="#5293d8"/><rect x="63.15" y="316.47" width="22.90" height="7.27" fill="#fbe3dd"/><rect x="85.45" y="316.47" width="22.90" height="7.27" fill="#eef3f3"/><rect x="107.74" y="316.47" width="22.90" height="7.27" fill="#fa3625"/><rect x="130.04" y="316.47" width="22.90" height="7.27" fill="#fc958a"/><rect x="152.34" y="316.47" width="22.90" height="7.27" fill="#a6c7e9"/><rect x="174.63" y="316.47" width="22.90" height="7.27" fill="#fb5543"/><rect x="196.93" y="316.47" width="22.90" height="7.27" fill="#fa3625"/><rect x="219.22" y="316.47" width="22.90" height="7.27" fill="#1262c6"/><rect x="241.52" y="316.47" width="22.90" height="7.27" fill="#67a0dc"/><rect x="263.82" y="316.47" width="22.90" height="7.27" fill="#f4ebe8"/><rect x="286.11" y="316.47" width="22.90" height="7.27" fill="#2e7bd0"/><rect x="308.41" y="316.47" width="22.90" height="7.27" fill="#fc958a"/><rect x="330.71" y="316.47" width="22.90" height="7.27" fill="#5293d8"/><rect x="353.00" y="316.47" width="22.30" height="7.27" fill="#7cade0"/><rect x="63.15" y="323.14" width="22.90" height="7.27" fill="#dde8f2"/><rect x="85.45" y="323.14" width="22.90" height="7.27" fill="#fbe3dd"/><rect x="107.74" y="323.14" width="22.90" height="7.27" fill="#f4ebe8"/><rect x="130.04" y="323.14" width="22.90" height="7.27" fill="#fcb2a8"/><rect x="152.34" y="323.14" width="22.90" height="7.27" fill="#eef3f3"/><rect x="174.63" y="323.14" width="22.90" height="7.27" fill="#fc786a"/><rect x="196.93" y="323.14" width="22.90" height="7.27" fill="#f52c1e"/><rect x="219.22" y="323.14" width="22.90" height="7.27" fill="#7cade0"/><rect x="241.52" y="323.14" width="22.90" height="7.27" fill="#7cade0"/><rect x="263.82" y="323.14" width="22.90" height="7.27" fill="#a6c7e9"/><rect x="286.11" y="323.14" width="22.90" height="7.27" fill="#5293d8"/><rect x="308.41" y="323.14" width="22.90" height="7.27" fill="#91bae4"/><rect x="330.71" y="323.14" width="22.90" height="7.27" fill="#67a0dc"/><rect x="353.00" y="323.14" width="22.30" height="7.27" fill="#7cade0"/><rect x="63.15" y="329.81" width="22.90" height="7.27" fill="#ccdef0"/><rect x="85.45" y="329.81" width="22.90" height="7.27" fill="#fbe3dd"/><rect x="107.74" y="329.81" width="22.90" height="7.27" fill="#fcb2a8"/><rect x="130.04" y="329.81" width="22.90" height="7.27" fill="#fcb2a8"/><rect x="152.34" y="329.81" width="22.90" height="7.27" fill="#fbe3dd"/><rect x="174.63" y="329.81" width="22.90" height="7.27" fill="#fa3625"/><rect x="196.93" y="329.81" width="22.90" height="7.27" fill="#fa3625"/><rect x="219.22" y="329.81" width="22.90" height="7.27" fill="#5293d8"/><rect x="241.52" y="329.81" width="22.90" height="7.27" fill="#7cade0"/><rect x="263.82" y="329.81" width="22.90" height="7.27" fill="#a6c7e9"/><rect x="286.11" y="329.81" width="22.90" height="7.27" fill="#7cade0"/><rect x="308.41" y="329.81" width="22.90" height="7.27" fill="#eef3f3"/><rect x="330.71" y="329.81" width="22.90" height="7.27" fill="#5293d8"/><rect x="353.00" y="329.81" width="22.30" height="7.27" fill="#4087d4"/><rect x="63.15" y="336.48" width="22.90" height="7.27" fill="#fccdc5"/><rect x="85.45" y="336.48" width="22.90" height="7.27" fill="#fa3625"/><rect x="107.74" y="336.48" width="22.90" height="7.27" fill="#fc786a"/><rect x="130.04" y="336.48" width="22.90" height="7.27" fill="#fccdc5"/><rect x="152.34" y="336.48" width="22.90" height="7.27" fill="#ccdef0"/><rect x="174.63" y="336.48" width="22.90" height="7.27" fill="#fa3625"/><rect x="196.93" y="336.48" width="22.90" height="7.27" fill="#fc6656"/><rect x="219.22" y="336.48" width="22.90" height="7.27" fill="#1262c6"/><rect x="241.52" y="336.48" width="22.90" height="7.27" fill="#083cb6"/><rect x="263.82" y="336.48" width="22.90" height="7.27" fill="#ccdef0"/><rect x="286.11" y="336.48" width="22.90" height="7.27" fill="#5293d8"/><rect x="308.41" y="336.48" width="22.90" height="7.27" fill="#fcb2a8"/><rect x="330.71" y="336.48" width="22.90" height="7.27" fill="#5293d8"/><rect x="353.00" y="336.48" width="22.30" height="7.27" fill="#7cade0"/><rect x="63.15" y="343.15" width="22.90" height="7.27" fill="#fccdc5"/><rect x="85.45" y="343.15" width="22.90" height="7.27" fill="#fa3625"/><rect x="107.74" y="343.15" width="22.90" height="7.27" fill="#fc786a"/><rect x="130.04" y="343.15" width="22.90" height="7.27" fill="#fc786a"/><rect x="152.34" y="343.15" width="22.90" height="7.27" fill="#fccdc5"/><rect x="174.63" y="343.15" width="22.90" height="7.27" fill="#fc958a"/><rect x="196.93" y="343.15" width="22.90" height="7.27" fill="#fa3625"/><rect x="219.22" y="343.15" width="22.90" height="7.27" fill="#4087d4"/><rect x="241.52" y="343.15" width="22.90" height="7.27" fill="#67a0dc"/><rect x="263.82" y="343.15" width="22.90" height="7.27" fill="#7cade0"/><rect x="286.11" y="343.15" width="22.90" height="7.27" fill="#a6c7e9"/><rect x="308.41" y="343.15" width="22.90" height="7.27" fill="#5293d8"/><rect x="330.71" y="343.15" width="22.90" height="7.27" fill="#67a0dc"/><rect x="353.00" y="343.15" width="22.30" height="7.27" fill="#5293d8"/><rect x="63.15" y="349.82" width="22.90" height="7.27" fill="#fcd8d1"/><rect x="85.45" y="349.82" width="22.90" height="7.27" fill="#fc786a"/><rect x="107.74" y="349.82" width="22.90" height="7.27" fill="#fa3625"/><rect x="130.04" y="349.82" width="22.90" height="7.27" fill="#7cade0"/><rect x="152.34" y="349.82" width="22.90" height="7.27" fill="#ccdef0"/><rect x="174.63" y="349.82" width="22.90" height="7.27" fill="#fcb2a8"/><rect x="196.93" y="349.82" width="22.90" height="7.27" fill="#fa3625"/><rect x="219.22" y="349.82" width="22.90" height="7.27" fill="#fa3625"/><rect x="241.52" y="349.82" width="22.90" height="7.27" fill="#ccdef0"/><rect x="263.82" y="349.82" width="22.90" height="7.27" fill="#7cade0"/><rect x="286.11" y="349.82" width="22.90" height="7.27" fill="#1262c6"/><rect x="308.41" y="349.82" width="22.90" height="7.27" fill="#5293d8"/><rect x="330.71" y="349.82" width="22.90" height="7.27" fill="#5293d8"/><rect x="353.00" y="349.82" width="22.30" height="7.27" fill="#5293d8"/><rect x="63.15" y="356.49" width="22.90" height="7.27" fill="#f52c1e"/><rect x="85.45" y="356.49" width="22.90" height="7.27" fill="#fc786a"/><rect x="107.74" y="356.49" width="22.90" height="7.27" fill="#fcd8d1"/><rect x="130.04" y="356.49" width="22.90" height="7.27" fill="#a6c7e9"/><rect x="152.34" y="356.49" width="22.90" height="7.27" fill="#fa3625"/><rect x="174.63" y="356.49" width="22.90" height="7.27" fill="#fcb2a8"/><rect x="196.93" y="356.49" width="22.90" height="7.27" fill="#2e7bd0"/><rect x="219.22" y="356.49" width="22.90" height="7.27" fill="#7cade0"/><rect x="241.52" y="356.49" width="22.90" height="7.27" fill="#a6c7e9"/><rect x="263.82" y="356.49" width="22.90" height="7.27" fill="#2e7bd0"/><rect x="286.11" y="356.49" width="22.90" height="7.27" fill="#a6c7e9"/><rect x="308.41" y="356.49" width="22.90" height="7.27" fill="#a6c7e9"/><rect x="330.71" y="356.49" width="22.90" height="7.27" fill="#a6c7e9"/><rect x="353.00" y="356.49" width="22.30" height="7.27" fill="#fcc0b6"/><rect x="63.15" y="363.15" width="22.90" height="7.27" fill="#fa3625"/><rect x="85.45" y="363.15" width="22.90" height="7.27" fill="#f4ebe8"/><rect x="107.74" y="363.15" width="22.90" height="7.27" fill="#fc786a"/><rect x="130.04" y="363.15" width="22.90" height="7.27" fill="#fc786a"/><rect x="152.34" y="363.15" width="22.90" height="7.27" fill="#7cade0"/><rect x="174.63" y="363.15" width="22.90" height="7.27" fill="#fccdc5"/><rect x="196.93" y="363.15" width="22.90" height="7.27" fill="#fa3625"/><rect x="219.22" y="363.15" width="22.90" height="7.27" fill="#a6c7e9"/><rect x="241.52" y="363.15" width="22.90" height="7.27" fill="#ccdef0"/><rect x="263.82" y="363.15" width="22.90" height="7.27" fill="#1262c6"/><rect x="286.11" y="363.15" width="22.90" height="7.27" fill="#ccdef0"/><rect x="308.41" y="363.15" width="22.90" height="7.27" fill="#2e7bd0"/><rect x="330.71" y="363.15" width="22.90" height="7.27" fill="#5293d8"/><rect x="353.00" y="363.15" width="22.30" height="7.27" fill="#7cade0"/><rect x="63.15" y="369.82" width="22.90" height="7.27" fill="#fa3625"/><rect x="85.45" y="369.82" width="22.90" height="7.27" fill="#fccdc5"/><rect x="107.74" y="369.82" width="22.90" height="7.27" fill="#fcc0b6"/><rect x="130.04" y="369.82" width="22.90" height="7.27" fill="#fca499"/><rect x="152.34" y="369.82" width="22.90" height="7.27" fill="#fc786a"/><rect x="174.63" y="369.82" width="22.90" height="7.27" fill="#a6c7e9"/><rect x="196.93" y="369.82" width="22.90" height="7.27" fill="#fb5543"/><rect x="219.22" y="369.82" width="22.90" height="7.27" fill="#fcd8d1"/><rect x="241.52" y="369.82" width="22.90" height="7.27" fill="#a6c7e9"/><rect x="263.82" y="369.82" width="22.90" height="7.27" fill="#1262c6"/><rect x="286.11" y="369.82" width="22.90" height="7.27" fill="#91bae4"/><rect x="308.41" y="369.82" width="22.90" height="7.27" fill="#2e7bd0"/><rect x="330.71" y="369.82" width="22.90" height="7.27" fill="#206ecb"/><rect x="353.00" y="369.82" width="22.30" height="7.27" fill="#eef3f3"/><rect x="63.15" y="376.49" width="22.90" height="7.27" fill="#fa3625"/><rect x="85.45" y="376.49" width="22.90" height="7.27" fill="#fccdc5"/><rect x="107.74" y="376.49" width="22.90" height="7.27" fill="#fcd8d1"/><rect x="130.04" y="376.49" width="22.90" height="7.27" fill="#fcb2a8"/><rect x="152.34" y="376.49" width="22.90" height="7.27" fill="#fa3625"/><rect x="174.63" y="376.49" width="22.90" height="7.27" fill="#7cade0"/><rect x="196.93" y="376.49" width="22.90" height="7.27" fill="#fcc0b6"/><rect x="219.22" y="376.49" width="22.90" height="7.27" fill="#eef3f3"/><rect x="241.52" y="376.49" width="22.90" height="7.27" fill="#a6c7e9"/><rect x="263.82" y="376.49" width="22.90" height="7.27" fill="#2e7bd0"/><rect x="286.11" y="376.49" width="22.90" height="7.27" fill="#a6c7e9"/><rect x="308.41" y="376.49" width="22.90" height="7.27" fill="#2e7bd0"/><rect x="330.71" y="376.49" width="22.90" height="7.27" fill="#4087d4"/><rect x="353.00" y="376.49" width="22.30" height="7.27" fill="#f4ebe8"/><rect x="63.15" y="383.16" width="22.90" height="7.27" fill="#f02216"/><rect x="85.45" y="383.16" width="22.90" height="7.27" fill="#fccdc5"/><rect x="107.74" y="383.16" width="22.90" height="7.27" fill="#fcd8d1"/><rect x="130.04" y="383.16" width="22.90" height="7.27" fill="#fcb2a8"/><rect x="152.34" y="383.16" width="22.90" height="7.27" fill="#fb5543"/><rect x="174.63" y="383.16" width="22.90" height="7.27" fill="#a6c7e9"/><rect x="196.93" y="383.16" width="22.90" height="7.27" fill="#ccdef0"/><rect x="219.22" y="383.16" width="22.90" height="7.27" fill="#eef3f3"/><rect x="241.52" y="383.16" width="22.90" height="7.27" fill="#a6c7e9"/><rect x="263.82" y="383.16" width="22.90" height="7.27" fill="#2e7bd0"/><rect x="286.11" y="383.16" width="22.90" height="7.27" fill="#b9d2ec"/><rect x="308.41" y="383.16" width="22.90" height="7.27" fill="#2e7bd0"/><rect x="330.71" y="383.16" width="22.90" height="7.27" fill="#5293d8"/><rect x="353.00" y="383.16" width="22.30" height="7.27" fill="#f4ebe8"/><rect x="63.15" y="389.83" width="22.90" height="6.67" fill="#f02216"/><rect x="85.45" y="389.83" width="22.90" height="6.67" fill="#fccdc5"/><rect x="107.74" y="389.83" width="22.90" height="6.67" fill="#fcd8d1"/><rect x="130.04" y="389.83" width="22.90" height="6.67" fill="#fcb2a8"/><rect x="152.34" y="389.83" width="22.90" height="6.67" fill="#fc6656"/><rect x="174.63" y="389.83" width="22.90" height="6.67" fill="#a6c7e9"/><rect x="196.93" y="389.83" width="22.90" height="6.67" fill="#ccdef0"/><rect x="219.22" y="389.83" width="22.90" height="6.67" fill="#eef3f3"/><rect x="241.52" y="389.83" width="22.90" height="6.67" fill="#a6c7e9"/><rect x="263.82" y="389.83" width="22.90" height="6.67" fill="#4087d4"/><rect x="286.11" y="389.83" width="22.90" height="6.67" fill="#b9d2ec"/><rect x="308.41" y="389.83" width="22.90" height="6.67" fill="#2e7bd0"/><rect x="330.71" y="389.83" width="22.90" height="6.67" fill="#5293d8"/><rect x="353.00" y="389.83" width="22.30" height="6.67" fill="#f4ebe8"/></svg>
<svg class="dn" width="550" height="896" viewBox="0 0 550 896"><path d="M62.9 73.1H60.9M62.9 79.7H60.9M60.9 73.1V79.7M62.9 66.4H52.9M60.9 76.4H52.9M52.9 66.4V76.4M62.9 93.1H59.9M62.9 99.7H59.9M59.9 93.1V99.7M62.9 86.4H57.9M59.9 96.4H57.9M57.9 86.4V96.4M57.9 91.4H54.9M62.9 106.4H54.9M54.9 91.4V106.4M62.9 113.1H59.4M62.9 119.7H59.4M59.4 113.1V119.7M59.4 116.4H56.9M62.9 126.4H56.9M56.9 116.4V126.4M54.9 98.9H51.4M56.9 121.4H51.4M51.4 98.9V121.4M62.9 139.7H59.4M62.9 146.4H59.4M59.4 139.7V146.4M62.9 133.1H56.9M59.4 143.1H56.9M56.9 133.1V143.1M62.9 153.1H57.9M62.9 159.8H57.9M57.9 153.1V159.8M56.9 138.1H53.9M57.9 156.4H53.9M53.9 138.1V156.4M62.9 173.1H58.4M62.9 179.8H58.4M58.4 173.1V179.8M62.9 166.4H55.9M58.4 176.4H55.9M55.9 166.4V176.4M53.9 147.2H51.9M55.9 171.4H51.9M51.9 147.2V171.4M51.4 110.1H49.9M51.9 159.3H49.9M49.9 110.1V159.3M52.9 71.4H44.9M49.9 134.7H44.9M44.9 71.4V134.7M62.9 186.4H54.9M62.9 193.1H54.9M54.9 186.4V193.1M62.9 199.8H57.9M62.9 206.4H57.9M57.9 199.8V206.4M62.9 219.8H58.9M62.9 226.4H58.9M58.9 219.8V226.4M62.9 213.1H55.9M58.9 223.1H55.9M55.9 213.1V223.1M57.9 203.1H52.9M55.9 218.1H52.9M52.9 203.1V218.1M54.9 189.8H49.9M52.9 210.6H49.9M49.9 189.8V210.6M62.9 239.8H59.9M62.9 246.4H59.9M59.9 239.8V246.4M62.9 233.1H57.9M59.9 243.1H57.9M57.9 233.1V243.1M62.9 253.1H57.9M62.9 259.8H57.9M57.9 253.1V259.8M57.9 238.1H54.9M57.9 256.5H54.9M54.9 238.1V256.5M62.9 266.5H59.9M62.9 273.1H59.9M59.9 266.5V273.1M59.9 269.8H56.9M62.9 279.8H56.9M56.9 269.8V279.8M62.9 286.5H58.9M62.9 293.1H58.9M58.9 286.5V293.1M56.9 274.8H53.9M58.9 289.8H53.9M53.9 274.8V289.8M54.9 247.3H51.9M53.9 282.3H51.9M51.9 247.3V282.3M62.9 299.8H57.9M62.9 306.5H57.9M57.9 299.8V306.5M62.9 313.1H59.9M62.9 319.8H59.9M59.9 313.1V319.8M57.9 303.1H54.9M59.9 316.5H54.9M54.9 303.1V316.5M62.9 326.5H56.9M62.9 333.1H56.9M56.9 326.5V333.1M62.9 339.8H58.9M62.9 346.5H58.9M58.9 339.8V346.5M56.9 329.8H53.9M58.9 343.1H53.9M53.9 329.8V343.1M54.9 309.8H51.4M53.9 336.5H51.4M51.4 309.8V336.5M51.9 264.8H48.9M51.4 323.1H48.9M48.9 264.8V323.1M49.9 200.2H46.9M48.9 294.0H46.9M46.9 200.2V294.0M62.9 386.5H60.9M62.9 393.2H60.9M60.9 386.5V393.2M62.9 379.8H58.9M60.9 389.8H58.9M58.9 379.8V389.8M62.9 373.2H56.9M58.9 384.8H56.9M56.9 373.2V384.8M62.9 366.5H52.9M56.9 379.0H52.9M52.9 366.5V379.0M62.9 359.8H48.9M52.9 372.7H48.9M48.9 359.8V372.7M62.9 353.2H46.5M48.9 366.3H46.5M46.5 353.2V366.3M46.9 247.1H43.9M46.5 359.7H43.9M43.9 247.1V359.7M44.9 103.1H38.4M43.9 303.4H38.4M38.4 103.1V303.4" fill="none" stroke="#2a2a2a" stroke-width="0.5"/></svg>
<div class="rl" style="left:377.10px;top:63.55px;font-size:20.0px;line-height:26.676px;transform:scale(0.25);transform-origin:0 0;text-rendering:geometricPrecision">
<div>Glucose 6-phosphate</div>
<div>4-Ethyl-2-hexylthiazole</div>
<div>5-Ethyl-2-methyl-4-propylthiazole</div>
<div>Prolyl-Alanine</div>
<div>LysoPC(16:0/0:0)</div>
<div>LysoPC(18:1(11Z)/0:0)</div>
<div>LysoPC(20:1(11Z)/0:0)</div>
<div>1,4-beta-D-Glucan</div>
<div>Pantothenol</div>
<div>TETRAHYDRO-2-THIOPHENECARBOXYLIC ACID</div>
<div>LysoPC(0:0/18:1(9Z))</div>
<div>Indoleacrylic acid</div>
<div>L-Alloisoleucine</div>
<div>L-Proline</div>
<div>Asymmetric dimethylarginine</div>
<div>3,4-Dihydro-2H-1-benzopyran-2-one</div>
<div>2-Hydroxycinnamic acid</div>
<div>Benzofuran</div>
<div>PI-Cer(d18:0/18:0)</div>
<div>Uridine diphosphate-N-acetylgalactosamine</div>
<div>7-oxo-8-amino-nonanoic acid</div>
<div>PGP(a-13:0/i-21:0)</div>
<div>PE(22:0/18:1(12Z)-O(9S,10R))</div>
<div>PC(P-18:1(11Z)/14:0)</div>
<div>PC(18:3(10,12,15)-OH(9)/P-18:1(11Z))</div>
<div>PC(P-18:1(9Z)/18:3(9Z,12Z,15Z))</div>
<div>Adenosine monophosphate</div>
<div>3'-AMP</div>
<div>(Z)-2-(5-Tetradecenyl)cyclobutanone</div>
<div>2-(5,8-Tetradecadienyl)cyclobutanone</div>
<div>Clausarinol</div>
<div>Phosphoglycolic acid</div>
<div>(4E,8E,10E-d18:3)sphingosine</div>
<div>Phthalsaurediethylhexylester</div>
<div>2-Amino-3-cyclohexylpropanoic acid</div>
<div>4-Oxo-2-nonenal</div>
<div>Phosphorylcholine</div>
<div>L-Carnitine</div>
<div>Ovalicin</div>
<div>Formiminoglutamic acid</div>
<div>2-(1-Aziridinyl)ethanol</div>
<div>PE(20:4(5Z,8Z,11Z,14Z)/22:2(13Z,16Z))</div>
<div>L-Fucose</div>
<div>Turmeric acid</div>
<div>Pyropheophorbide a</div>
<div>Acacetin 7-(4'''-acetylrutinoside)</div>
<div>Levan</div>
<div>Dextran</div>
<div>Phenol glucuronide</div>
<div>Cladox</div>
</div>
<div class="gl" style="left:377.10px;top:55.62px;font-size:5.0px;line-height:6.669px">Group</div>
<div class="cl" style="left:74.30px;top:399.00px;font-size:7px">MN1</div>
<div class="cl" style="left:96.59px;top:399.00px;font-size:7px">MN2</div>
<div class="cl" style="left:118.89px;top:399.00px;font-size:7px">MN3</div>
<div class="cl" style="left:141.19px;top:399.00px;font-size:7px">MN4</div>
<div class="cl" style="left:163.48px;top:399.00px;font-size:7px">MN5</div>
<div class="cl" style="left:185.78px;top:399.00px;font-size:7px">MN6</div>
<div class="cl" style="left:208.08px;top:399.00px;font-size:7px">MN7</div>
<div class="cl" style="left:230.37px;top:399.00px;font-size:7px">MO1</div>
<div class="cl" style="left:252.67px;top:399.00px;font-size:7px">MO2</div>
<div class="cl" style="left:274.97px;top:399.00px;font-size:7px">MO3</div>
<div class="cl" style="left:297.26px;top:399.00px;font-size:7px">MO4</div>
<div class="cl" style="left:319.56px;top:399.00px;font-size:7px">MO5</div>
<div class="cl" style="left:341.86px;top:399.00px;font-size:7px">MO6</div>
<div class="cl" style="left:364.15px;top:399.00px;font-size:7px">MO7</div>
<svg class="dn" width="550" height="896" viewBox="0 0 550 896"><rect x="58.70" y="540.00" width="150.88" height="5.00" fill="#cf1b1b"/><rect x="209.27" y="540.00" width="150.57" height="5.00" fill="#1414e0"/><rect x="58.70" y="546.95" width="22.11" height="7.05" fill="#1262c6"/><rect x="80.21" y="546.95" width="22.11" height="7.05" fill="#ccdef0"/><rect x="101.72" y="546.95" width="22.11" height="7.05" fill="#b9d2ec"/><rect x="123.23" y="546.95" width="22.11" height="7.05" fill="#fbe3dd"/><rect x="144.74" y="546.95" width="22.11" height="7.05" fill="#a6c7e9"/><rect x="166.25" y="546.95" width="22.11" height="7.05" fill="#5293d8"/><rect x="187.76" y="546.95" width="22.11" height="7.05" fill="#b9d2ec"/><rect x="209.27" y="546.95" width="22.11" height="7.05" fill="#fccdc5"/><rect x="230.79" y="546.95" width="22.11" height="7.05" fill="#fa3625"/><rect x="252.30" y="546.95" width="22.11" height="7.05" fill="#fcb2a8"/><rect x="273.81" y="546.95" width="22.11" height="7.05" fill="#5293d8"/><rect x="295.32" y="546.95" width="22.11" height="7.05" fill="#fc867a"/><rect x="316.83" y="546.95" width="22.11" height="7.05" fill="#f4ebe8"/><rect x="338.34" y="546.95" width="21.51" height="7.05" fill="#fa3625"/><rect x="58.70" y="553.40" width="22.11" height="7.05" fill="#67a0dc"/><rect x="80.21" y="553.40" width="22.11" height="7.05" fill="#1262c6"/><rect x="101.72" y="553.40" width="22.11" height="7.05" fill="#4087d4"/><rect x="123.23" y="553.40" width="22.11" height="7.05" fill="#1262c6"/><rect x="144.74" y="553.40" width="22.11" height="7.05" fill="#dde8f2"/><rect x="166.25" y="553.40" width="22.11" height="7.05" fill="#a6c7e9"/><rect x="187.76" y="553.40" width="22.11" height="7.05" fill="#91bae4"/><rect x="209.27" y="553.40" width="22.11" height="7.05" fill="#fb5543"/><rect x="230.79" y="553.40" width="22.11" height="7.05" fill="#fc958a"/><rect x="252.30" y="553.40" width="22.11" height="7.05" fill="#fa3625"/><rect x="273.81" y="553.40" width="22.11" height="7.05" fill="#fc867a"/><rect x="295.32" y="553.40" width="22.11" height="7.05" fill="#fc867a"/><rect x="316.83" y="553.40" width="22.11" height="7.05" fill="#fcb2a8"/><rect x="338.34" y="553.40" width="21.51" height="7.05" fill="#fcc0b6"/><rect x="58.70" y="559.85" width="22.11" height="7.05" fill="#67a0dc"/><rect x="80.21" y="559.85" width="22.11" height="7.05" fill="#1262c6"/><rect x="101.72" y="559.85" width="22.11" height="7.05" fill="#4087d4"/><rect x="123.23" y="559.85" width="22.11" height="7.05" fill="#206ecb"/><rect x="144.74" y="559.85" width="22.11" height="7.05" fill="#dde8f2"/><rect x="166.25" y="559.85" width="22.11" height="7.05" fill="#a6c7e9"/><rect x="187.76" y="559.85" width="22.11" height="7.05" fill="#a6c7e9"/><rect x="209.27" y="559.85" width="22.11" height="7.05" fill="#fb5543"/><rect x="230.79" y="559.85" width="22.11" height="7.05" fill="#fc958a"/><rect x="252.30" y="559.85" width="22.11" height="7.05" fill="#fa3625"/><rect x="273.81" y="559.85" width="22.11" height="7.05" fill="#fc867a"/><rect x="295.32" y="559.85" width="22.11" height="7.05" fill="#fc867a"/><rect x="316.83" y="559.85" width="22.11" height="7.05" fill="#fcb2a8"/><rect x="338.34" y="559.85" width="21.51" height="7.05" fill="#fcc0b6"/><rect x="58.70" y="566.30" width="22.11" height="7.05" fill="#67a0dc"/><rect x="80.21" y="566.30" width="22.11" height="7.05" fill="#1262c6"/><rect x="101.72" y="566.30" width="22.11" height="7.05" fill="#2e7bd0"/><rect x="123.23" y="566.30" width="22.11" height="7.05" fill="#5293d8"/><rect x="144.74" y="566.30" width="22.11" height="7.05" fill="#fc958a"/><rect x="166.25" y="566.30" width="22.11" height="7.05" fill="#a6c7e9"/><rect x="187.76" y="566.30" width="22.11" height="7.05" fill="#ccdef0"/><rect x="209.27" y="566.30" width="22.11" height="7.05" fill="#fc867a"/><rect x="230.79" y="566.30" width="22.11" height="7.05" fill="#fa3625"/><rect x="252.30" y="566.30" width="22.11" height="7.05" fill="#fb5543"/><rect x="273.81" y="566.30" width="22.11" height="7.05" fill="#dde8f2"/><rect x="295.32" y="566.30" width="22.11" height="7.05" fill="#fc958a"/><rect x="316.83" y="566.30" width="22.11" height="7.05" fill="#a6c7e9"/><rect x="338.34" y="566.30" width="21.51" height="7.05" fill="#fc786a"/><rect x="58.70" y="572.75" width="22.11" height="7.05" fill="#67a0dc"/><rect x="80.21" y="572.75" width="22.11" height="7.05" fill="#1262c6"/><rect x="101.72" y="572.75" width="22.11" height="7.05" fill="#2e7bd0"/><rect x="123.23" y="572.75" width="22.11" height="7.05" fill="#5293d8"/><rect x="144.74" y="572.75" width="22.11" height="7.05" fill="#fc958a"/><rect x="166.25" y="572.75" width="22.11" height="7.05" fill="#a6c7e9"/><rect x="187.76" y="572.75" width="22.11" height="7.05" fill="#b9d2ec"/><rect x="209.27" y="572.75" width="22.11" height="7.05" fill="#fc867a"/><rect x="230.79" y="572.75" width="22.11" height="7.05" fill="#fa3625"/><rect x="252.30" y="572.75" width="22.11" height="7.05" fill="#fb5543"/><rect x="273.81" y="572.75" width="22.11" height="7.05" fill="#dde8f2"/><rect x="295.32" y="572.75" width="22.11" height="7.05" fill="#fc958a"/><rect x="316.83" y="572.75" width="22.11" height="7.05" fill="#a6c7e9"/><rect x="338.34" y="572.75" width="21.51" height="7.05" fill="#fc786a"/><rect x="58.70" y="579.21" width="22.11" height="7.05" fill="#7cade0"/><rect x="80.21" y="579.21" width="22.11" height="7.05" fill="#2e7bd0"/><rect x="101.72" y="579.21" width="22.11" height="7.05" fill="#b9d2ec"/><rect x="123.23" y="579.21" width="22.11" height="7.05" fill="#1262c6"/><rect x="144.74" y="579.21" width="22.11" height="7.05" fill="#dde8f2"/><rect x="166.25" y="579.21" width="22.11" height="7.05" fill="#7cade0"/><rect x="187.76" y="579.21" width="22.11" height="7.05" fill="#a6c7e9"/><rect x="209.27" y="579.21" width="22.11" height="7.05" fill="#fa3625"/><rect x="230.79" y="579.21" width="22.11" height="7.05" fill="#fc958a"/><rect x="252.30" y="579.21" width="22.11" height="7.05" fill="#fcc0b6"/><rect x="273.81" y="579.21" width="22.11" height="7.05" fill="#7cade0"/><rect x="295.32" y="579.21" width="22.11" height="7.05" fill="#fccdc5"/><rect x="316.83" y="579.21" width="22.11" height="7.05" fill="#fb5543"/><rect x="338.34" y="579.21" width="21.51" height="7.05" fill="#fa3625"/><rect x="58.70" y="585.66" width="22.11" height="7.05" fill="#7cade0"/><rect x="80.21" y="585.66" width="22.11" height="7.05" fill="#1262c6"/><rect x="101.72" y="585.66" width="22.11" height="7.05" fill="#5293d8"/><rect x="123.23" y="585.66" width="22.11" height="7.05" fill="#5293d8"/><rect x="144.74" y="585.66" width="22.11" height="7.05" fill="#5293d8"/><rect x="166.25" y="585.66" width="22.11" height="7.05" fill="#a6c7e9"/><rect x="187.76" y="585.66" width="22.11" height="7.05" fill="#fccdc5"/><rect x="209.27" y="585.66" width="22.11" height="7.05" fill="#fc6656"/><rect x="230.79" y="585.66" width="22.11" height="7.05" fill="#fcb2a8"/><rect x="252.30" y="585.66" width="22.11" height="7.05" fill="#fa3625"/><rect x="273.81" y="585.66" width="22.11" height="7.05" fill="#ccdef0"/><rect x="295.32" y="585.66" width="22.11" height="7.05" fill="#fc958a"/><rect x="316.83" y="585.66" width="22.11" height="7.05" fill="#fccdc5"/><rect x="338.34" y="585.66" width="21.51" height="7.05" fill="#fa3625"/><rect x="58.70" y="592.11" width="22.11" height="7.05" fill="#a6c7e9"/><rect x="80.21" y="592.11" width="22.11" height="7.05" fill="#2e7bd0"/><rect x="101.72" y="592.11" width="22.11" height="7.05" fill="#7cade0"/><rect x="123.23" y="592.11" width="22.11" height="7.05" fill="#7cade0"/><rect x="144.74" y="592.11" width="22.11" height="7.05" fill="#4087d4"/><rect x="166.25" y="592.11" width="22.11" height="7.05" fill="#ccdef0"/><rect x="187.76" y="592.11" width="22.11" height="7.05" fill="#ccdef0"/><rect x="209.27" y="592.11" width="22.11" height="7.05" fill="#fc958a"/><rect x="230.79" y="592.11" width="22.11" height="7.05" fill="#fc958a"/><rect x="252.30" y="592.11" width="22.11" height="7.05" fill="#fb5543"/><rect x="273.81" y="592.11" width="22.11" height="7.05" fill="#a6c7e9"/><rect x="295.32" y="592.11" width="22.11" height="7.05" fill="#fca499"/><rect x="316.83" y="592.11" width="22.11" height="7.05" fill="#a6c7e9"/><rect x="338.34" y="592.11" width="21.51" height="7.05" fill="#fa3625"/><rect x="58.70" y="598.56" width="22.11" height="7.05" fill="#a6c7e9"/><rect x="80.21" y="598.56" width="22.11" height="7.05" fill="#2e7bd0"/><rect x="101.72" y="598.56" width="22.11" height="7.05" fill="#7cade0"/><rect x="123.23" y="598.56" width="22.11" height="7.05" fill="#7cade0"/><rect x="144.74" y="598.56" width="22.11" height="7.05" fill="#4087d4"/><rect x="166.25" y="598.56" width="22.11" height="7.05" fill="#dde8f2"/><rect x="187.76" y="598.56" width="22.11" height="7.05" fill="#ccdef0"/><rect x="209.27" y="598.56" width="22.11" height="7.05" fill="#fc958a"/><rect x="230.79" y="598.56" width="22.11" height="7.05" fill="#fc958a"/><rect x="252.30" y="598.56" width="22.11" height="7.05" fill="#fb5543"/><rect x="273.81" y="598.56" width="22.11" height="7.05" fill="#a6c7e9"/><rect x="295.32" y="598.56" width="22.11" height="7.05" fill="#fca499"/><rect x="316.83" y="598.56" width="22.11" height="7.05" fill="#a6c7e9"/><rect x="338.34" y="598.56" width="21.51" height="7.05" fill="#fa3625"/><rect x="58.70" y="605.01" width="22.11" height="7.05" fill="#7cade0"/><rect x="80.21" y="605.01" width="22.11" height="7.05" fill="#2e7bd0"/><rect x="101.72" y="605.01" width="22.11" height="7.05" fill="#67a0dc"/><rect x="123.23" y="605.01" width="22.11" height="7.05" fill="#7cade0"/><rect x="144.74" y="605.01" width="22.11" height="7.05" fill="#2e7bd0"/><rect x="166.25" y="605.01" width="22.11" height="7.05" fill="#fcb2a8"/><rect x="187.76" y="605.01" width="22.11" height="7.05" fill="#ccdef0"/><rect x="209.27" y="605.01" width="22.11" height="7.05" fill="#fc958a"/><rect x="230.79" y="605.01" width="22.11" height="7.05" fill="#fc958a"/><rect x="252.30" y="605.01" width="22.11" height="7.05" fill="#fa3625"/><rect x="273.81" y="605.01" width="22.11" height="7.05" fill="#b9d2ec"/><rect x="295.32" y="605.01" width="22.11" height="7.05" fill="#fcb2a8"/><rect x="316.83" y="605.01" width="22.11" height="7.05" fill="#fcc0b6"/><rect x="338.34" y="605.01" width="21.51" height="7.05" fill="#fccdc5"/><rect x="58.70" y="611.46" width="22.11" height="7.05" fill="#91bae4"/><rect x="80.21" y="611.46" width="22.11" height="7.05" fill="#206ecb"/><rect x="101.72" y="611.46" width="22.11" height="7.05" fill="#7cade0"/><rect x="123.23" y="611.46" width="22.11" height="7.05" fill="#7cade0"/><rect x="144.74" y="611.46" width="22.11" height="7.05" fill="#1262c6"/><rect x="166.25" y="611.46" width="22.11" height="7.05" fill="#fc958a"/><rect x="187.76" y="611.46" width="22.11" height="7.05" fill="#eef3f3"/><rect x="209.27" y="611.46" width="22.11" height="7.05" fill="#fc958a"/><rect x="230.79" y="611.46" width="22.11" height="7.05" fill="#fc786a"/><rect x="252.30" y="611.46" width="22.11" height="7.05" fill="#fa3625"/><rect x="273.81" y="611.46" width="22.11" height="7.05" fill="#5293d8"/><rect x="295.32" y="611.46" width="22.11" height="7.05" fill="#eef3f3"/><rect x="316.83" y="611.46" width="22.11" height="7.05" fill="#fcb2a8"/><rect x="338.34" y="611.46" width="21.51" height="7.05" fill="#fc958a"/><rect x="58.70" y="617.91" width="22.11" height="7.05" fill="#5293d8"/><rect x="80.21" y="617.91" width="22.11" height="7.05" fill="#91bae4"/><rect x="101.72" y="617.91" width="22.11" height="7.05" fill="#7cade0"/><rect x="123.23" y="617.91" width="22.11" height="7.05" fill="#7cade0"/><rect x="144.74" y="617.91" width="22.11" height="7.05" fill="#2e7bd0"/><rect x="166.25" y="617.91" width="22.11" height="7.05" fill="#dde8f2"/><rect x="187.76" y="617.91" width="22.11" height="7.05" fill="#a6c7e9"/><rect x="209.27" y="617.91" width="22.11" height="7.05" fill="#fca499"/><rect x="230.79" y="617.91" width="22.11" height="7.05" fill="#fc867a"/><rect x="252.30" y="617.91" width="22.11" height="7.05" fill="#fa3625"/><rect x="273.81" y="617.91" width="22.11" height="7.05" fill="#67a0dc"/><rect x="295.32" y="617.91" width="22.11" height="7.05" fill="#fb5543"/><rect x="316.83" y="617.91" width="22.11" height="7.05" fill="#fcb2a8"/><rect x="338.34" y="617.91" width="21.51" height="7.05" fill="#fcb2a8"/><rect x="58.70" y="624.36" width="22.11" height="7.05" fill="#7cade0"/><rect x="80.21" y="624.36" width="22.11" height="7.05" fill="#206ecb"/><rect x="101.72" y="624.36" width="22.11" height="7.05" fill="#5293d8"/><rect x="123.23" y="624.36" width="22.11" height="7.05" fill="#67a0dc"/><rect x="144.74" y="624.36" width="22.11" height="7.05" fill="#4087d4"/><rect x="166.25" y="624.36" width="22.11" height="7.05" fill="#fccdc5"/><rect x="187.76" y="624.36" width="22.11" height="7.05" fill="#91bae4"/><rect x="209.27" y="624.36" width="22.11" height="7.05" fill="#fb5543"/><rect x="230.79" y="624.36" width="22.11" height="7.05" fill="#fcb2a8"/><rect x="252.30" y="624.36" width="22.11" height="7.05" fill="#fa3625"/><rect x="273.81" y="624.36" width="22.11" height="7.05" fill="#91bae4"/><rect x="295.32" y="624.36" width="22.11" height="7.05" fill="#fc6656"/><rect x="316.83" y="624.36" width="22.11" height="7.05" fill="#fc786a"/><rect x="338.34" y="624.36" width="21.51" height="7.05" fill="#fca499"/><rect x="58.70" y="630.81" width="22.11" height="7.05" fill="#206ecb"/><rect x="80.21" y="630.81" width="22.11" height="7.05" fill="#0d4fbe"/><rect x="101.72" y="630.81" width="22.11" height="7.05" fill="#fcc0b6"/><rect x="123.23" y="630.81" width="22.11" height="7.05" fill="#2e7bd0"/><rect x="144.74" y="630.81" width="22.11" height="7.05" fill="#0d4fbe"/><rect x="166.25" y="630.81" width="22.11" height="7.05" fill="#fc867a"/><rect x="187.76" y="630.81" width="22.11" height="7.05" fill="#fcd8d1"/><rect x="209.27" y="630.81" width="22.11" height="7.05" fill="#fc786a"/><rect x="230.79" y="630.81" width="22.11" height="7.05" fill="#fca499"/><rect x="252.30" y="630.81" width="22.11" height="7.05" fill="#fc786a"/><rect x="273.81" y="630.81" width="22.11" height="7.05" fill="#fcb2a8"/><rect x="295.32" y="630.81" width="22.11" height="7.05" fill="#fc786a"/><rect x="316.83" y="630.81" width="22.11" height="7.05" fill="#fcb2a8"/><rect x="338.34" y="630.81" width="21.51" height="7.05" fill="#f4ebe8"/><rect x="58.70" y="637.26" width="22.11" height="7.05" fill="#b9d2ec"/><rect x="80.21" y="637.26" width="22.11" height="7.05" fill="#083cb6"/><rect x="101.72" y="637.26" width="22.11" height="7.05" fill="#a6c7e9"/><rect x="123.23" y="637.26" width="22.11" height="7.05" fill="#5293d8"/><rect x="144.74" y="637.26" width="22.11" height="7.05" fill="#1262c6"/><rect x="166.25" y="637.26" width="22.11" height="7.05" fill="#ccdef0"/><rect x="187.76" y="637.26" width="22.11" height="7.05" fill="#fc786a"/><rect x="209.27" y="637.26" width="22.11" height="7.05" fill="#fcc0b6"/><rect x="230.79" y="637.26" width="22.11" height="7.05" fill="#fca499"/><rect x="252.30" y="637.26" width="22.11" height="7.05" fill="#fc786a"/><rect x="273.81" y="637.26" width="22.11" height="7.05" fill="#fc867a"/><rect x="295.32" y="637.26" width="22.11" height="7.05" fill="#fc786a"/><rect x="316.83" y="637.26" width="22.11" height="7.05" fill="#fcb2a8"/><rect x="338.34" y="637.26" width="21.51" height="7.05" fill="#fcb2a8"/><rect x="58.70" y="643.72" width="22.11" height="7.05" fill="#67a0dc"/><rect x="80.21" y="643.72" width="22.11" height="7.05" fill="#1262c6"/><rect x="101.72" y="643.72" width="22.11" height="7.05" fill="#5293d8"/><rect x="123.23" y="643.72" width="22.11" height="7.05" fill="#a6c7e9"/><rect x="144.74" y="643.72" width="22.11" height="7.05" fill="#1262c6"/><rect x="166.25" y="643.72" width="22.11" height="7.05" fill="#ccdef0"/><rect x="187.76" y="643.72" width="22.11" height="7.05" fill="#fcd8d1"/><rect x="209.27" y="643.72" width="22.11" height="7.05" fill="#fa4634"/><rect x="230.79" y="643.72" width="22.11" height="7.05" fill="#fbe3dd"/><rect x="252.30" y="643.72" width="22.11" height="7.05" fill="#fa3625"/><rect x="273.81" y="643.72" width="22.11" height="7.05" fill="#fb5543"/><rect x="295.32" y="643.72" width="22.11" height="7.05" fill="#fc786a"/><rect x="316.83" y="643.72" width="22.11" height="7.05" fill="#fbe3dd"/><rect x="338.34" y="643.72" width="21.51" height="7.05" fill="#fcc0b6"/><rect x="58.70" y="650.17" width="22.11" height="7.05" fill="#1262c6"/><rect x="80.21" y="650.17" width="22.11" height="7.05" fill="#2e7bd0"/><rect x="101.72" y="650.17" width="22.11" height="7.05" fill="#7cade0"/><rect x="123.23" y="650.17" width="22.11" height="7.05" fill="#67a0dc"/><rect x="144.74" y="650.17" width="22.11" height="7.05" fill="#2e7bd0"/><rect x="166.25" y="650.17" width="22.11" height="7.05" fill="#a6c7e9"/><rect x="187.76" y="650.17" width="22.11" height="7.05" fill="#fcd8d1"/><rect x="209.27" y="650.17" width="22.11" height="7.05" fill="#fc958a"/><rect x="230.79" y="650.17" width="22.11" height="7.05" fill="#fc958a"/><rect x="252.30" y="650.17" width="22.11" height="7.05" fill="#fb5543"/><rect x="273.81" y="650.17" width="22.11" height="7.05" fill="#fcb2a8"/><rect x="295.32" y="650.17" width="22.11" height="7.05" fill="#fc786a"/><rect x="316.83" y="650.17" width="22.11" height="7.05" fill="#fcb2a8"/><rect x="338.34" y="650.17" width="21.51" height="7.05" fill="#fa4634"/><rect x="58.70" y="656.62" width="22.11" height="7.05" fill="#5293d8"/><rect x="80.21" y="656.62" width="22.11" height="7.05" fill="#206ecb"/><rect x="101.72" y="656.62" width="22.11" height="7.05" fill="#7cade0"/><rect x="123.23" y="656.62" width="22.11" height="7.05" fill="#5293d8"/><rect x="144.74" y="656.62" width="22.11" height="7.05" fill="#4087d4"/><rect x="166.25" y="656.62" width="22.11" height="7.05" fill="#a6c7e9"/><rect x="187.76" y="656.62" width="22.11" height="7.05" fill="#ccdef0"/><rect x="209.27" y="656.62" width="22.11" height="7.05" fill="#fa4634"/><rect x="230.79" y="656.62" width="22.11" height="7.05" fill="#fc958a"/><rect x="252.30" y="656.62" width="22.11" height="7.05" fill="#fa4634"/><rect x="273.81" y="656.62" width="22.11" height="7.05" fill="#fcb2a8"/><rect x="295.32" y="656.62" width="22.11" height="7.05" fill="#fc786a"/><rect x="316.83" y="656.62" width="22.11" height="7.05" fill="#fcb2a8"/><rect x="338.34" y="656.62" width="21.51" height="7.05" fill="#fcb2a8"/><rect x="58.70" y="663.07" width="22.11" height="7.05" fill="#5293d8"/><rect x="80.21" y="663.07" width="22.11" height="7.05" fill="#206ecb"/><rect x="101.72" y="663.07" width="22.11" height="7.05" fill="#7cade0"/><rect x="123.23" y="663.07" width="22.11" height="7.05" fill="#5293d8"/><rect x="144.74" y="663.07" width="22.11" height="7.05" fill="#4087d4"/><rect x="166.25" y="663.07" width="22.11" height="7.05" fill="#a6c7e9"/><rect x="187.76" y="663.07" width="22.11" height="7.05" fill="#ccdef0"/><rect x="209.27" y="663.07" width="22.11" height="7.05" fill="#fa4634"/><rect x="230.79" y="663.07" width="22.11" height="7.05" fill="#fc958a"/><rect x="252.30" y="663.07" width="22.11" height="7.05" fill="#fa4634"/><rect x="273.81" y="663.07" width="22.11" height="7.05" fill="#fcb2a8"/><rect x="295.32" y="663.07" width="22.11" height="7.05" fill="#fc786a"/><rect x="316.83" y="663.07" width="22.11" height="7.05" fill="#fcb2a8"/><rect x="338.34" y="663.07" width="21.51" height="7.05" fill="#fcb2a8"/><rect x="58.70" y="669.52" width="22.11" height="7.05" fill="#5293d8"/><rect x="80.21" y="669.52" width="22.11" height="7.05" fill="#2e7bd0"/><rect x="101.72" y="669.52" width="22.11" height="7.05" fill="#7cade0"/><rect x="123.23" y="669.52" width="22.11" height="7.05" fill="#5293d8"/><rect x="144.74" y="669.52" width="22.11" height="7.05" fill="#4087d4"/><rect x="166.25" y="669.52" width="22.11" height="7.05" fill="#a6c7e9"/><rect x="187.76" y="669.52" width="22.11" height="7.05" fill="#ccdef0"/><rect x="209.27" y="669.52" width="22.11" height="7.05" fill="#fa4634"/><rect x="230.79" y="669.52" width="22.11" height="7.05" fill="#fc958a"/><rect x="252.30" y="669.52" width="22.11" height="7.05" fill="#fa4634"/><rect x="273.81" y="669.52" width="22.11" height="7.05" fill="#fcb2a8"/><rect x="295.32" y="669.52" width="22.11" height="7.05" fill="#fc786a"/><rect x="316.83" y="669.52" width="22.11" height="7.05" fill="#fcb2a8"/><rect x="338.34" y="669.52" width="21.51" height="7.05" fill="#fcb2a8"/><rect x="58.70" y="675.97" width="22.11" height="7.05" fill="#ccdef0"/><rect x="80.21" y="675.97" width="22.11" height="7.05" fill="#2e7bd0"/><rect x="101.72" y="675.97" width="22.11" height="7.05" fill="#a6c7e9"/><rect x="123.23" y="675.97" width="22.11" height="7.05" fill="#b9d2ec"/><rect x="144.74" y="675.97" width="22.11" height="7.05" fill="#2e7bd0"/><rect x="166.25" y="675.97" width="22.11" height="7.05" fill="#b9d2ec"/><rect x="187.76" y="675.97" width="22.11" height="7.05" fill="#fbe3dd"/><rect x="209.27" y="675.97" width="22.11" height="7.05" fill="#fca499"/><rect x="230.79" y="675.97" width="22.11" height="7.05" fill="#dde8f2"/><rect x="252.30" y="675.97" width="22.11" height="7.05" fill="#fc958a"/><rect x="273.81" y="675.97" width="22.11" height="7.05" fill="#ccdef0"/><rect x="295.32" y="675.97" width="22.11" height="7.05" fill="#f02216"/><rect x="316.83" y="675.97" width="22.11" height="7.05" fill="#fcc0b6"/><rect x="338.34" y="675.97" width="21.51" height="7.05" fill="#a6c7e9"/><rect x="58.70" y="682.42" width="22.11" height="7.05" fill="#ccdef0"/><rect x="80.21" y="682.42" width="22.11" height="7.05" fill="#2e7bd0"/><rect x="101.72" y="682.42" width="22.11" height="7.05" fill="#a6c7e9"/><rect x="123.23" y="682.42" width="22.11" height="7.05" fill="#ccdef0"/><rect x="144.74" y="682.42" width="22.11" height="7.05" fill="#1262c6"/><rect x="166.25" y="682.42" width="22.11" height="7.05" fill="#ccdef0"/><rect x="187.76" y="682.42" width="22.11" height="7.05" fill="#ccdef0"/><rect x="209.27" y="682.42" width="22.11" height="7.05" fill="#fa3625"/><rect x="230.79" y="682.42" width="22.11" height="7.05" fill="#fcb2a8"/><rect x="252.30" y="682.42" width="22.11" height="7.05" fill="#fc786a"/><rect x="273.81" y="682.42" width="22.11" height="7.05" fill="#2e7bd0"/><rect x="295.32" y="682.42" width="22.11" height="7.05" fill="#f52c1e"/><rect x="316.83" y="682.42" width="22.11" height="7.05" fill="#fcc0b6"/><rect x="338.34" y="682.42" width="21.51" height="7.05" fill="#dde8f2"/><rect x="58.70" y="688.87" width="22.11" height="7.05" fill="#ccdef0"/><rect x="80.21" y="688.87" width="22.11" height="7.05" fill="#4087d4"/><rect x="101.72" y="688.87" width="22.11" height="7.05" fill="#ccdef0"/><rect x="123.23" y="688.87" width="22.11" height="7.05" fill="#b9d2ec"/><rect x="144.74" y="688.87" width="22.11" height="7.05" fill="#206ecb"/><rect x="166.25" y="688.87" width="22.11" height="7.05" fill="#ccdef0"/><rect x="187.76" y="688.87" width="22.11" height="7.05" fill="#ccdef0"/><rect x="209.27" y="688.87" width="22.11" height="7.05" fill="#fa4634"/><rect x="230.79" y="688.87" width="22.11" height="7.05" fill="#fcc0b6"/><rect x="252.30" y="688.87" width="22.11" height="7.05" fill="#fcc0b6"/><rect x="273.81" y="688.87" width="22.11" height="7.05" fill="#67a0dc"/><rect x="295.32" y="688.87" width="22.11" height="7.05" fill="#f02216"/><rect x="316.83" y="688.87" width="22.11" height="7.05" fill="#dde8f2"/><rect x="338.34" y="688.87" width="21.51" height="7.05" fill="#fbe3dd"/><rect x="58.70" y="695.32" width="22.11" height="7.05" fill="#ccdef0"/><rect x="80.21" y="695.32" width="22.11" height="7.05" fill="#4087d4"/><rect x="101.72" y="695.32" width="22.11" height="7.05" fill="#ccdef0"/><rect x="123.23" y="695.32" width="22.11" height="7.05" fill="#ccdef0"/><rect x="144.74" y="695.32" width="22.11" height="7.05" fill="#2e7bd0"/><rect x="166.25" y="695.32" width="22.11" height="7.05" fill="#ccdef0"/><rect x="187.76" y="695.32" width="22.11" height="7.05" fill="#fccdc5"/><rect x="209.27" y="695.32" width="22.11" height="7.05" fill="#fc958a"/><rect x="230.79" y="695.32" width="22.11" height="7.05" fill="#fcb2a8"/><rect x="252.30" y="695.32" width="22.11" height="7.05" fill="#fcd8d1"/><rect x="273.81" y="695.32" width="22.11" height="7.05" fill="#67a0dc"/><rect x="295.32" y="695.32" width="22.11" height="7.05" fill="#f02216"/><rect x="316.83" y="695.32" width="22.11" height="7.05" fill="#fbe3dd"/><rect x="338.34" y="695.32" width="21.51" height="7.05" fill="#fccdc5"/><rect x="58.70" y="701.77" width="22.11" height="7.05" fill="#ccdef0"/><rect x="80.21" y="701.77" width="22.11" height="7.05" fill="#4087d4"/><rect x="101.72" y="701.77" width="22.11" height="7.05" fill="#ccdef0"/><rect x="123.23" y="701.77" width="22.11" height="7.05" fill="#ccdef0"/><rect x="144.74" y="701.77" width="22.11" height="7.05" fill="#2e7bd0"/><rect x="166.25" y="701.77" width="22.11" height="7.05" fill="#ccdef0"/><rect x="187.76" y="701.77" width="22.11" height="7.05" fill="#dde8f2"/><rect x="209.27" y="701.77" width="22.11" height="7.05" fill="#fc958a"/><rect x="230.79" y="701.77" width="22.11" height="7.05" fill="#fcc0b6"/><rect x="252.30" y="701.77" width="22.11" height="7.05" fill="#fcd8d1"/><rect x="273.81" y="701.77" width="22.11" height="7.05" fill="#67a0dc"/><rect x="295.32" y="701.77" width="22.11" height="7.05" fill="#f02216"/><rect x="316.83" y="701.77" width="22.11" height="7.05" fill="#fbe3dd"/><rect x="338.34" y="701.77" width="21.51" height="7.05" fill="#fccdc5"/><rect x="58.70" y="708.23" width="22.11" height="7.05" fill="#67a0dc"/><rect x="80.21" y="708.23" width="22.11" height="7.05" fill="#67a0dc"/><rect x="101.72" y="708.23" width="22.11" height="7.05" fill="#ccdef0"/><rect x="123.23" y="708.23" width="22.11" height="7.05" fill="#7cade0"/><rect x="144.74" y="708.23" width="22.11" height="7.05" fill="#1262c6"/><rect x="166.25" y="708.23" width="22.11" height="7.05" fill="#5293d8"/><rect x="187.76" y="708.23" width="22.11" height="7.05" fill="#a6c7e9"/><rect x="209.27" y="708.23" width="22.11" height="7.05" fill="#fc786a"/><rect x="230.79" y="708.23" width="22.11" height="7.05" fill="#fcc0b6"/><rect x="252.30" y="708.23" width="22.11" height="7.05" fill="#fc786a"/><rect x="273.81" y="708.23" width="22.11" height="7.05" fill="#fb5543"/><rect x="295.32" y="708.23" width="22.11" height="7.05" fill="#fb5543"/><rect x="316.83" y="708.23" width="22.11" height="7.05" fill="#fa3625"/><rect x="338.34" y="708.23" width="21.51" height="7.05" fill="#a6c7e9"/><rect x="58.70" y="714.68" width="22.11" height="7.05" fill="#ccdef0"/><rect x="80.21" y="714.68" width="22.11" height="7.05" fill="#5293d8"/><rect x="101.72" y="714.68" width="22.11" height="7.05" fill="#b9d2ec"/><rect x="123.23" y="714.68" width="22.11" height="7.05" fill="#7cade0"/><rect x="144.74" y="714.68" width="22.11" height="7.05" fill="#67a0dc"/><rect x="166.25" y="714.68" width="22.11" height="7.05" fill="#fcb2a8"/><rect x="187.76" y="714.68" width="22.11" height="7.05" fill="#b9d2ec"/><rect x="209.27" y="714.68" width="22.11" height="7.05" fill="#fcb2a8"/><rect x="230.79" y="714.68" width="22.11" height="7.05" fill="#7cade0"/><rect x="252.30" y="714.68" width="22.11" height="7.05" fill="#fa3625"/><rect x="273.81" y="714.68" width="22.11" height="7.05" fill="#fcd8d1"/><rect x="295.32" y="714.68" width="22.11" height="7.05" fill="#fa3625"/><rect x="316.83" y="714.68" width="22.11" height="7.05" fill="#fc867a"/><rect x="338.34" y="714.68" width="21.51" height="7.05" fill="#2e7bd0"/><rect x="58.70" y="721.13" width="22.11" height="7.05" fill="#ccdef0"/><rect x="80.21" y="721.13" width="22.11" height="7.05" fill="#7cade0"/><rect x="101.72" y="721.13" width="22.11" height="7.05" fill="#4087d4"/><rect x="123.23" y="721.13" width="22.11" height="7.05" fill="#5293d8"/><rect x="144.74" y="721.13" width="22.11" height="7.05" fill="#a6c7e9"/><rect x="166.25" y="721.13" width="22.11" height="7.05" fill="#f4ebe8"/><rect x="187.76" y="721.13" width="22.11" height="7.05" fill="#7cade0"/><rect x="209.27" y="721.13" width="22.11" height="7.05" fill="#fcc0b6"/><rect x="230.79" y="721.13" width="22.11" height="7.05" fill="#fc867a"/><rect x="252.30" y="721.13" width="22.11" height="7.05" fill="#fa3625"/><rect x="273.81" y="721.13" width="22.11" height="7.05" fill="#eef3f3"/><rect x="295.32" y="721.13" width="22.11" height="7.05" fill="#fa3625"/><rect x="316.83" y="721.13" width="22.11" height="7.05" fill="#fc867a"/><rect x="338.34" y="721.13" width="21.51" height="7.05" fill="#2e7bd0"/><rect x="58.70" y="727.58" width="22.11" height="7.05" fill="#4087d4"/><rect x="80.21" y="727.58" width="22.11" height="7.05" fill="#7cade0"/><rect x="101.72" y="727.58" width="22.11" height="7.05" fill="#a6c7e9"/><rect x="123.23" y="727.58" width="22.11" height="7.05" fill="#ccdef0"/><rect x="144.74" y="727.58" width="22.11" height="7.05" fill="#5293d8"/><rect x="166.25" y="727.58" width="22.11" height="7.05" fill="#fccdc5"/><rect x="187.76" y="727.58" width="22.11" height="7.05" fill="#b9d2ec"/><rect x="209.27" y="727.58" width="22.11" height="7.05" fill="#fcc0b6"/><rect x="230.79" y="727.58" width="22.11" height="7.05" fill="#a6c7e9"/><rect x="252.30" y="727.58" width="22.11" height="7.05" fill="#e4e0e6"/><rect x="273.81" y="727.58" width="22.11" height="7.05" fill="#f02216"/><rect x="295.32" y="727.58" width="22.11" height="7.05" fill="#fcb2a8"/><rect x="316.83" y="727.58" width="22.11" height="7.05" fill="#fc958a"/><rect x="338.34" y="727.58" width="21.51" height="7.05" fill="#f4ebe8"/><rect x="58.70" y="734.03" width="22.11" height="7.05" fill="#4087d4"/><rect x="80.21" y="734.03" width="22.11" height="7.05" fill="#91bae4"/><rect x="101.72" y="734.03" width="22.11" height="7.05" fill="#a6c7e9"/><rect x="123.23" y="734.03" width="22.11" height="7.05" fill="#b9d2ec"/><rect x="144.74" y="734.03" width="22.11" height="7.05" fill="#5293d8"/><rect x="166.25" y="734.03" width="22.11" height="7.05" fill="#fccdc5"/><rect x="187.76" y="734.03" width="22.11" height="7.05" fill="#a6c7e9"/><rect x="209.27" y="734.03" width="22.11" height="7.05" fill="#fcc0b6"/><rect x="230.79" y="734.03" width="22.11" height="7.05" fill="#a6c7e9"/><rect x="252.30" y="734.03" width="22.11" height="7.05" fill="#fcd8d1"/><rect x="273.81" y="734.03" width="22.11" height="7.05" fill="#f02216"/><rect x="295.32" y="734.03" width="22.11" height="7.05" fill="#fcb2a8"/><rect x="316.83" y="734.03" width="22.11" height="7.05" fill="#fcb2a8"/><rect x="338.34" y="734.03" width="21.51" height="7.05" fill="#b9d2ec"/><rect x="58.70" y="740.48" width="22.11" height="7.05" fill="#2e7bd0"/><rect x="80.21" y="740.48" width="22.11" height="7.05" fill="#7cade0"/><rect x="101.72" y="740.48" width="22.11" height="7.05" fill="#fbe3dd"/><rect x="123.23" y="740.48" width="22.11" height="7.05" fill="#a6c7e9"/><rect x="144.74" y="740.48" width="22.11" height="7.05" fill="#0d4fbe"/><rect x="166.25" y="740.48" width="22.11" height="7.05" fill="#fbe3dd"/><rect x="187.76" y="740.48" width="22.11" height="7.05" fill="#a6c7e9"/><rect x="209.27" y="740.48" width="22.11" height="7.05" fill="#eef3f3"/><rect x="230.79" y="740.48" width="22.11" height="7.05" fill="#fccdc5"/><rect x="252.30" y="740.48" width="22.11" height="7.05" fill="#fc958a"/><rect x="273.81" y="740.48" width="22.11" height="7.05" fill="#f02216"/><rect x="295.32" y="740.48" width="22.11" height="7.05" fill="#fa4634"/><rect x="316.83" y="740.48" width="22.11" height="7.05" fill="#fcb2a8"/><rect x="338.34" y="740.48" width="21.51" height="7.05" fill="#a6c7e9"/><rect x="58.70" y="746.93" width="22.11" height="7.05" fill="#5293d8"/><rect x="80.21" y="746.93" width="22.11" height="7.05" fill="#ccdef0"/><rect x="101.72" y="746.93" width="22.11" height="7.05" fill="#fbe3dd"/><rect x="123.23" y="746.93" width="22.11" height="7.05" fill="#4087d4"/><rect x="144.74" y="746.93" width="22.11" height="7.05" fill="#0d4fbe"/><rect x="166.25" y="746.93" width="22.11" height="7.05" fill="#a6c7e9"/><rect x="187.76" y="746.93" width="22.11" height="7.05" fill="#dde8f2"/><rect x="209.27" y="746.93" width="22.11" height="7.05" fill="#fbe3dd"/><rect x="230.79" y="746.93" width="22.11" height="7.05" fill="#fc958a"/><rect x="252.30" y="746.93" width="22.11" height="7.05" fill="#eef3f3"/><rect x="273.81" y="746.93" width="22.11" height="7.05" fill="#f02216"/><rect x="295.32" y="746.93" width="22.11" height="7.05" fill="#fcb2a8"/><rect x="316.83" y="746.93" width="22.11" height="7.05" fill="#fcb2a8"/><rect x="338.34" y="746.93" width="21.51" height="7.05" fill="#a6c7e9"/><rect x="58.70" y="753.38" width="22.11" height="7.05" fill="#5293d8"/><rect x="80.21" y="753.38" width="22.11" height="7.05" fill="#7cade0"/><rect x="101.72" y="753.38" width="22.11" height="7.05" fill="#fbe3dd"/><rect x="123.23" y="753.38" width="22.11" height="7.05" fill="#dde8f2"/><rect x="144.74" y="753.38" width="22.11" height="7.05" fill="#0d4fbe"/><rect x="166.25" y="753.38" width="22.11" height="7.05" fill="#f4ebe8"/><rect x="187.76" y="753.38" width="22.11" height="7.05" fill="#91bae4"/><rect x="209.27" y="753.38" width="22.11" height="7.05" fill="#fa4634"/><rect x="230.79" y="753.38" width="22.11" height="7.05" fill="#a6c7e9"/><rect x="252.30" y="753.38" width="22.11" height="7.05" fill="#7cade0"/><rect x="273.81" y="753.38" width="22.11" height="7.05" fill="#f4ebe8"/><rect x="295.32" y="753.38" width="22.11" height="7.05" fill="#fc958a"/><rect x="316.83" y="753.38" width="22.11" height="7.05" fill="#fa3625"/><rect x="338.34" y="753.38" width="21.51" height="7.05" fill="#fa3625"/><rect x="58.70" y="759.83" width="22.11" height="7.05" fill="#91bae4"/><rect x="80.21" y="759.83" width="22.11" height="7.05" fill="#7cade0"/><rect x="101.72" y="759.83" width="22.11" height="7.05" fill="#7cade0"/><rect x="123.23" y="759.83" width="22.11" height="7.05" fill="#a6c7e9"/><rect x="144.74" y="759.83" width="22.11" height="7.05" fill="#206ecb"/><rect x="166.25" y="759.83" width="22.11" height="7.05" fill="#fccdc5"/><rect x="187.76" y="759.83" width="22.11" height="7.05" fill="#fc958a"/><rect x="209.27" y="759.83" width="22.11" height="7.05" fill="#a6c7e9"/><rect x="230.79" y="759.83" width="22.11" height="7.05" fill="#a6c7e9"/><rect x="252.30" y="759.83" width="22.11" height="7.05" fill="#a6c7e9"/><rect x="273.81" y="759.83" width="22.11" height="7.05" fill="#fa3625"/><rect x="295.32" y="759.83" width="22.11" height="7.05" fill="#fca499"/><rect x="316.83" y="759.83" width="22.11" height="7.05" fill="#fa3625"/><rect x="338.34" y="759.83" width="21.51" height="7.05" fill="#fc958a"/><rect x="58.70" y="766.28" width="22.11" height="7.05" fill="#fa3625"/><rect x="80.21" y="766.28" width="22.11" height="7.05" fill="#fcd8d1"/><rect x="101.72" y="766.28" width="22.11" height="7.05" fill="#91bae4"/><rect x="123.23" y="766.28" width="22.11" height="7.05" fill="#fcb2a8"/><rect x="144.74" y="766.28" width="22.11" height="7.05" fill="#fbe3dd"/><rect x="166.25" y="766.28" width="22.11" height="7.05" fill="#fbe3dd"/><rect x="187.76" y="766.28" width="22.11" height="7.05" fill="#fa3625"/><rect x="209.27" y="766.28" width="22.11" height="7.05" fill="#91bae4"/><rect x="230.79" y="766.28" width="22.11" height="7.05" fill="#91bae4"/><rect x="252.30" y="766.28" width="22.11" height="7.05" fill="#67a0dc"/><rect x="273.81" y="766.28" width="22.11" height="7.05" fill="#a6c7e9"/><rect x="295.32" y="766.28" width="22.11" height="7.05" fill="#91bae4"/><rect x="316.83" y="766.28" width="22.11" height="7.05" fill="#a6c7e9"/><rect x="338.34" y="766.28" width="21.51" height="7.05" fill="#b9d2ec"/><rect x="58.70" y="772.74" width="22.11" height="7.05" fill="#fa4634"/><rect x="80.21" y="772.74" width="22.11" height="7.05" fill="#fcb2a8"/><rect x="101.72" y="772.74" width="22.11" height="7.05" fill="#ccdef0"/><rect x="123.23" y="772.74" width="22.11" height="7.05" fill="#fc958a"/><rect x="144.74" y="772.74" width="22.11" height="7.05" fill="#fbe3dd"/><rect x="166.25" y="772.74" width="22.11" height="7.05" fill="#fc786a"/><rect x="187.76" y="772.74" width="22.11" height="7.05" fill="#fa3625"/><rect x="209.27" y="772.74" width="22.11" height="7.05" fill="#a6c7e9"/><rect x="230.79" y="772.74" width="22.11" height="7.05" fill="#a6c7e9"/><rect x="252.30" y="772.74" width="22.11" height="7.05" fill="#7cade0"/><rect x="273.81" y="772.74" width="22.11" height="7.05" fill="#7cade0"/><rect x="295.32" y="772.74" width="22.11" height="7.05" fill="#1262c6"/><rect x="316.83" y="772.74" width="22.11" height="7.05" fill="#a6c7e9"/><rect x="338.34" y="772.74" width="21.51" height="7.05" fill="#2e7bd0"/><rect x="58.70" y="779.19" width="22.11" height="7.05" fill="#ccdef0"/><rect x="80.21" y="779.19" width="22.11" height="7.05" fill="#fbe3dd"/><rect x="101.72" y="779.19" width="22.11" height="7.05" fill="#ccdef0"/><rect x="123.23" y="779.19" width="22.11" height="7.05" fill="#fc958a"/><rect x="144.74" y="779.19" width="22.11" height="7.05" fill="#fcd8d1"/><rect x="166.25" y="779.19" width="22.11" height="7.05" fill="#fa4634"/><rect x="187.76" y="779.19" width="22.11" height="7.05" fill="#f02216"/><rect x="209.27" y="779.19" width="22.11" height="7.05" fill="#5293d8"/><rect x="230.79" y="779.19" width="22.11" height="7.05" fill="#b9d2ec"/><rect x="252.30" y="779.19" width="22.11" height="7.05" fill="#67a0dc"/><rect x="273.81" y="779.19" width="22.11" height="7.05" fill="#7cade0"/><rect x="295.32" y="779.19" width="22.11" height="7.05" fill="#dde8f2"/><rect x="316.83" y="779.19" width="22.11" height="7.05" fill="#a6c7e9"/><rect x="338.34" y="779.19" width="21.51" height="7.05" fill="#f4ebe8"/><rect x="58.70" y="785.64" width="22.11" height="7.05" fill="#ccdef0"/><rect x="80.21" y="785.64" width="22.11" height="7.05" fill="#dde8f2"/><rect x="101.72" y="785.64" width="22.11" height="7.05" fill="#ccdef0"/><rect x="123.23" y="785.64" width="22.11" height="7.05" fill="#fb5543"/><rect x="144.74" y="785.64" width="22.11" height="7.05" fill="#fa4634"/><rect x="166.25" y="785.64" width="22.11" height="7.05" fill="#fccdc5"/><rect x="187.76" y="785.64" width="22.11" height="7.05" fill="#fa3625"/><rect x="209.27" y="785.64" width="22.11" height="7.05" fill="#fcd8d1"/><rect x="230.79" y="785.64" width="22.11" height="7.05" fill="#206ecb"/><rect x="252.30" y="785.64" width="22.11" height="7.05" fill="#5293d8"/><rect x="273.81" y="785.64" width="22.11" height="7.05" fill="#083cb6"/><rect x="295.32" y="785.64" width="22.11" height="7.05" fill="#a6c7e9"/><rect x="316.83" y="785.64" width="22.11" height="7.05" fill="#f4ebe8"/><rect x="338.34" y="785.64" width="21.51" height="7.05" fill="#fca499"/><rect x="58.70" y="792.09" width="22.11" height="7.05" fill="#ccdef0"/><rect x="80.21" y="792.09" width="22.11" height="7.05" fill="#eef3f3"/><rect x="101.72" y="792.09" width="22.11" height="7.05" fill="#ccdef0"/><rect x="123.23" y="792.09" width="22.11" height="7.05" fill="#fcb2a8"/><rect x="144.74" y="792.09" width="22.11" height="7.05" fill="#fa3625"/><rect x="166.25" y="792.09" width="22.11" height="7.05" fill="#ccdef0"/><rect x="187.76" y="792.09" width="22.11" height="7.05" fill="#fa3625"/><rect x="209.27" y="792.09" width="22.11" height="7.05" fill="#dde8f2"/><rect x="230.79" y="792.09" width="22.11" height="7.05" fill="#4087d4"/><rect x="252.30" y="792.09" width="22.11" height="7.05" fill="#91bae4"/><rect x="273.81" y="792.09" width="22.11" height="7.05" fill="#1262c6"/><rect x="295.32" y="792.09" width="22.11" height="7.05" fill="#a6c7e9"/><rect x="316.83" y="792.09" width="22.11" height="7.05" fill="#f4ebe8"/><rect x="338.34" y="792.09" width="21.51" height="7.05" fill="#fbe3dd"/><rect x="58.70" y="798.54" width="22.11" height="7.05" fill="#ccdef0"/><rect x="80.21" y="798.54" width="22.11" height="7.05" fill="#eef3f3"/><rect x="101.72" y="798.54" width="22.11" height="7.05" fill="#ccdef0"/><rect x="123.23" y="798.54" width="22.11" height="7.05" fill="#fccdc5"/><rect x="144.74" y="798.54" width="22.11" height="7.05" fill="#fa3625"/><rect x="166.25" y="798.54" width="22.11" height="7.05" fill="#ccdef0"/><rect x="187.76" y="798.54" width="22.11" height="7.05" fill="#fa3625"/><rect x="209.27" y="798.54" width="22.11" height="7.05" fill="#fccdc5"/><rect x="230.79" y="798.54" width="22.11" height="7.05" fill="#206ecb"/><rect x="252.30" y="798.54" width="22.11" height="7.05" fill="#4087d4"/><rect x="273.81" y="798.54" width="22.11" height="7.05" fill="#1262c6"/><rect x="295.32" y="798.54" width="22.11" height="7.05" fill="#a6c7e9"/><rect x="316.83" y="798.54" width="22.11" height="7.05" fill="#fccdc5"/><rect x="338.34" y="798.54" width="21.51" height="7.05" fill="#fcd8d1"/><rect x="58.70" y="804.99" width="22.11" height="7.05" fill="#fc958a"/><rect x="80.21" y="804.99" width="22.11" height="7.05" fill="#dde8f2"/><rect x="101.72" y="804.99" width="22.11" height="7.05" fill="#fc6656"/><rect x="123.23" y="804.99" width="22.11" height="7.05" fill="#fca499"/><rect x="144.74" y="804.99" width="22.11" height="7.05" fill="#91bae4"/><rect x="166.25" y="804.99" width="22.11" height="7.05" fill="#fa3625"/><rect x="187.76" y="804.99" width="22.11" height="7.05" fill="#fc958a"/><rect x="209.27" y="804.99" width="22.11" height="7.05" fill="#fccdc5"/><rect x="230.79" y="804.99" width="22.11" height="7.05" fill="#1262c6"/><rect x="252.30" y="804.99" width="22.11" height="7.05" fill="#7cade0"/><rect x="273.81" y="804.99" width="22.11" height="7.05" fill="#fcb2a8"/><rect x="295.32" y="804.99" width="22.11" height="7.05" fill="#dde8f2"/><rect x="316.83" y="804.99" width="22.11" height="7.05" fill="#7cade0"/><rect x="338.34" y="804.99" width="21.51" height="7.05" fill="#1262c6"/><rect x="58.70" y="811.44" width="22.11" height="7.05" fill="#dde8f2"/><rect x="80.21" y="811.44" width="22.11" height="7.05" fill="#fc6656"/><rect x="101.72" y="811.44" width="22.11" height="7.05" fill="#fa3625"/><rect x="123.23" y="811.44" width="22.11" height="7.05" fill="#fc786a"/><rect x="144.74" y="811.44" width="22.11" height="7.05" fill="#a6c7e9"/><rect x="166.25" y="811.44" width="22.11" height="7.05" fill="#fa3625"/><rect x="187.76" y="811.44" width="22.11" height="7.05" fill="#a6c7e9"/><rect x="209.27" y="811.44" width="22.11" height="7.05" fill="#a6c7e9"/><rect x="230.79" y="811.44" width="22.11" height="7.05" fill="#a6c7e9"/><rect x="252.30" y="811.44" width="22.11" height="7.05" fill="#67a0dc"/><rect x="273.81" y="811.44" width="22.11" height="7.05" fill="#7cade0"/><rect x="295.32" y="811.44" width="22.11" height="7.05" fill="#91bae4"/><rect x="316.83" y="811.44" width="22.11" height="7.05" fill="#f4ebe8"/><rect x="338.34" y="811.44" width="21.51" height="7.05" fill="#4087d4"/><rect x="58.70" y="817.89" width="22.11" height="7.05" fill="#91bae4"/><rect x="80.21" y="817.89" width="22.11" height="7.05" fill="#fc958a"/><rect x="101.72" y="817.89" width="22.11" height="7.05" fill="#fa3625"/><rect x="123.23" y="817.89" width="22.11" height="7.05" fill="#fa3625"/><rect x="144.74" y="817.89" width="22.11" height="7.05" fill="#67a0dc"/><rect x="166.25" y="817.89" width="22.11" height="7.05" fill="#fa3625"/><rect x="187.76" y="817.89" width="22.11" height="7.05" fill="#b9d2ec"/><rect x="209.27" y="817.89" width="22.11" height="7.05" fill="#a6c7e9"/><rect x="230.79" y="817.89" width="22.11" height="7.05" fill="#a6c7e9"/><rect x="252.30" y="817.89" width="22.11" height="7.05" fill="#b9d2ec"/><rect x="273.81" y="817.89" width="22.11" height="7.05" fill="#7cade0"/><rect x="295.32" y="817.89" width="22.11" height="7.05" fill="#f4ebe8"/><rect x="316.83" y="817.89" width="22.11" height="7.05" fill="#ccdef0"/><rect x="338.34" y="817.89" width="21.51" height="7.05" fill="#4087d4"/><rect x="58.70" y="824.34" width="22.11" height="7.05" fill="#fcb2a8"/><rect x="80.21" y="824.34" width="22.11" height="7.05" fill="#fc786a"/><rect x="101.72" y="824.34" width="22.11" height="7.05" fill="#fc867a"/><rect x="123.23" y="824.34" width="22.11" height="7.05" fill="#fa3625"/><rect x="144.74" y="824.34" width="22.11" height="7.05" fill="#fc867a"/><rect x="166.25" y="824.34" width="22.11" height="7.05" fill="#dde8f2"/><rect x="187.76" y="824.34" width="22.11" height="7.05" fill="#ccdef0"/><rect x="209.27" y="824.34" width="22.11" height="7.05" fill="#a6c7e9"/><rect x="230.79" y="824.34" width="22.11" height="7.05" fill="#ccdef0"/><rect x="252.30" y="824.34" width="22.11" height="7.05" fill="#a6c7e9"/><rect x="273.81" y="824.34" width="22.11" height="7.05" fill="#1262c6"/><rect x="295.32" y="824.34" width="22.11" height="7.05" fill="#0d4fbe"/><rect x="316.83" y="824.34" width="22.11" height="7.05" fill="#a6c7e9"/><rect x="338.34" y="824.34" width="21.51" height="7.05" fill="#fc958a"/><rect x="58.70" y="830.79" width="22.11" height="7.05" fill="#fcb2a8"/><rect x="80.21" y="830.79" width="22.11" height="7.05" fill="#fc958a"/><rect x="101.72" y="830.79" width="22.11" height="7.05" fill="#fb5543"/><rect x="123.23" y="830.79" width="22.11" height="7.05" fill="#fa4634"/><rect x="144.74" y="830.79" width="22.11" height="7.05" fill="#fc6656"/><rect x="166.25" y="830.79" width="22.11" height="7.05" fill="#fca499"/><rect x="187.76" y="830.79" width="22.11" height="7.05" fill="#67a0dc"/><rect x="209.27" y="830.79" width="22.11" height="7.05" fill="#ccdef0"/><rect x="230.79" y="830.79" width="22.11" height="7.05" fill="#a6c7e9"/><rect x="252.30" y="830.79" width="22.11" height="7.05" fill="#ccdef0"/><rect x="273.81" y="830.79" width="22.11" height="7.05" fill="#206ecb"/><rect x="295.32" y="830.79" width="22.11" height="7.05" fill="#0d4fbe"/><rect x="316.83" y="830.79" width="22.11" height="7.05" fill="#a6c7e9"/><rect x="338.34" y="830.79" width="21.51" height="7.05" fill="#a6c7e9"/><rect x="58.70" y="837.25" width="22.11" height="7.05" fill="#fa3625"/><rect x="80.21" y="837.25" width="22.11" height="7.05" fill="#fc867a"/><rect x="101.72" y="837.25" width="22.11" height="7.05" fill="#fbe3dd"/><rect x="123.23" y="837.25" width="22.11" height="7.05" fill="#91bae4"/><rect x="144.74" y="837.25" width="22.11" height="7.05" fill="#fa3625"/><rect x="166.25" y="837.25" width="22.11" height="7.05" fill="#fcc0b6"/><rect x="187.76" y="837.25" width="22.11" height="7.05" fill="#2e7bd0"/><rect x="209.27" y="837.25" width="22.11" height="7.05" fill="#ccdef0"/><rect x="230.79" y="837.25" width="22.11" height="7.05" fill="#a6c7e9"/><rect x="252.30" y="837.25" width="22.11" height="7.05" fill="#fbe3dd"/><rect x="273.81" y="837.25" width="22.11" height="7.05" fill="#7cade0"/><rect x="295.32" y="837.25" width="22.11" height="7.05" fill="#2e7bd0"/><rect x="316.83" y="837.25" width="22.11" height="7.05" fill="#a6c7e9"/><rect x="338.34" y="837.25" width="21.51" height="7.05" fill="#a6c7e9"/><rect x="58.70" y="843.70" width="22.11" height="7.05" fill="#fa3625"/><rect x="80.21" y="843.70" width="22.11" height="7.05" fill="#fc786a"/><rect x="101.72" y="843.70" width="22.11" height="7.05" fill="#b9d2ec"/><rect x="123.23" y="843.70" width="22.11" height="7.05" fill="#fc867a"/><rect x="144.74" y="843.70" width="22.11" height="7.05" fill="#fa3625"/><rect x="166.25" y="843.70" width="22.11" height="7.05" fill="#fca499"/><rect x="187.76" y="843.70" width="22.11" height="7.05" fill="#2e7bd0"/><rect x="209.27" y="843.70" width="22.11" height="7.05" fill="#b9d2ec"/><rect x="230.79" y="843.70" width="22.11" height="7.05" fill="#b9d2ec"/><rect x="252.30" y="843.70" width="22.11" height="7.05" fill="#a6c7e9"/><rect x="273.81" y="843.70" width="22.11" height="7.05" fill="#2e7bd0"/><rect x="295.32" y="843.70" width="22.11" height="7.05" fill="#206ecb"/><rect x="316.83" y="843.70" width="22.11" height="7.05" fill="#b9d2ec"/><rect x="338.34" y="843.70" width="21.51" height="7.05" fill="#fcb2a8"/><rect x="58.70" y="850.15" width="22.11" height="7.05" fill="#fb5543"/><rect x="80.21" y="850.15" width="22.11" height="7.05" fill="#fca499"/><rect x="101.72" y="850.15" width="22.11" height="7.05" fill="#fcc0b6"/><rect x="123.23" y="850.15" width="22.11" height="7.05" fill="#fbe3dd"/><rect x="144.74" y="850.15" width="22.11" height="7.05" fill="#dde8f2"/><rect x="166.25" y="850.15" width="22.11" height="7.05" fill="#fa3625"/><rect x="187.76" y="850.15" width="22.11" height="7.05" fill="#4087d4"/><rect x="209.27" y="850.15" width="22.11" height="7.05" fill="#7cade0"/><rect x="230.79" y="850.15" width="22.11" height="7.05" fill="#7cade0"/><rect x="252.30" y="850.15" width="22.11" height="7.05" fill="#b9d2ec"/><rect x="273.81" y="850.15" width="22.11" height="7.05" fill="#5293d8"/><rect x="295.32" y="850.15" width="22.11" height="7.05" fill="#4087d4"/><rect x="316.83" y="850.15" width="22.11" height="7.05" fill="#fcb2a8"/><rect x="338.34" y="850.15" width="21.51" height="7.05" fill="#a6c7e9"/><rect x="58.70" y="856.60" width="22.11" height="7.05" fill="#fb5543"/><rect x="80.21" y="856.60" width="22.11" height="7.05" fill="#fc958a"/><rect x="101.72" y="856.60" width="22.11" height="7.05" fill="#fcb2a8"/><rect x="123.23" y="856.60" width="22.11" height="7.05" fill="#b9d2ec"/><rect x="144.74" y="856.60" width="22.11" height="7.05" fill="#fa3625"/><rect x="166.25" y="856.60" width="22.11" height="7.05" fill="#fa3625"/><rect x="187.76" y="856.60" width="22.11" height="7.05" fill="#5293d8"/><rect x="209.27" y="856.60" width="22.11" height="7.05" fill="#a6c7e9"/><rect x="230.79" y="856.60" width="22.11" height="7.05" fill="#a6c7e9"/><rect x="252.30" y="856.60" width="22.11" height="7.05" fill="#91bae4"/><rect x="273.81" y="856.60" width="22.11" height="7.05" fill="#2e7bd0"/><rect x="295.32" y="856.60" width="22.11" height="7.05" fill="#206ecb"/><rect x="316.83" y="856.60" width="22.11" height="7.05" fill="#ccdef0"/><rect x="338.34" y="856.60" width="21.51" height="7.05" fill="#b9d2ec"/><rect x="58.70" y="863.05" width="22.11" height="6.45" fill="#fc6656"/><rect x="80.21" y="863.05" width="22.11" height="6.45" fill="#fc6656"/><rect x="101.72" y="863.05" width="22.11" height="6.45" fill="#fcc0b6"/><rect x="123.23" y="863.05" width="22.11" height="6.45" fill="#2e7bd0"/><rect x="144.74" y="863.05" width="22.11" height="6.45" fill="#fc786a"/><rect x="166.25" y="863.05" width="22.11" height="6.45" fill="#fa3625"/><rect x="187.76" y="863.05" width="22.11" height="6.45" fill="#67a0dc"/><rect x="209.27" y="863.05" width="22.11" height="6.45" fill="#dde8f2"/><rect x="230.79" y="863.05" width="22.11" height="6.45" fill="#a6c7e9"/><rect x="252.30" y="863.05" width="22.11" height="6.45" fill="#91bae4"/><rect x="273.81" y="863.05" width="22.11" height="6.45" fill="#2e7bd0"/><rect x="295.32" y="863.05" width="22.11" height="6.45" fill="#2e7bd0"/><rect x="316.83" y="863.05" width="22.11" height="6.45" fill="#fcb2a8"/><rect x="338.34" y="863.05" width="21.51" height="6.45" fill="#a6c7e9"/></svg>
<svg class="dn" width="550" height="896" viewBox="0 0 550 896"><path d="M58.4 556.6H56.4M58.4 563.1H56.4M56.4 556.6V563.1M58.4 569.5H56.4M58.4 576.0H56.4M56.4 569.5V576.0M56.4 559.9H51.9M56.4 572.8H51.9M51.9 559.9V572.8M58.4 595.3H55.4M58.4 601.8H55.4M55.4 595.3V601.8M58.4 588.9H53.4M55.4 598.6H53.4M53.4 588.9V598.6M58.4 582.4H50.9M53.4 593.7H50.9M50.9 582.4V593.7M51.9 566.3H49.4M50.9 588.1H49.4M49.4 566.3V588.1M58.4 621.1H55.4M58.4 627.6H55.4M55.4 621.1V627.6M58.4 614.7H52.4M55.4 624.4H52.4M52.4 614.7V624.4M58.4 608.2H50.4M52.4 619.5H50.4M50.4 608.2V619.5M58.4 640.5H54.4M58.4 646.9H54.4M54.4 640.5V646.9M58.4 634.0H51.9M54.4 643.7H51.9M51.9 634.0V643.7M58.4 666.3H56.9M58.4 672.7H56.9M56.9 666.3V672.7M58.4 659.8H54.4M56.9 669.5H54.4M54.4 659.8V669.5M58.4 653.4H50.9M54.4 664.7H50.9M50.9 653.4V664.7M51.9 638.9H49.4M50.9 659.0H49.4M49.4 638.9V659.0M50.4 613.9H47.9M49.4 649.0H47.9M47.9 613.9V649.0M49.4 577.2H46.4M47.9 631.4H46.4M46.4 577.2V631.4M58.4 550.2H44.6M46.4 604.3H44.6M44.6 550.2V604.3M58.4 685.6H55.9M58.4 692.1H55.9M55.9 685.6V692.1M58.4 679.2H53.4M55.9 688.9H53.4M53.4 679.2V688.9M58.4 698.5H55.9M58.4 705.0H55.9M55.9 698.5V705.0M53.4 684.0H50.9M55.9 701.8H50.9M50.9 684.0V701.8M58.4 717.9H52.4M58.4 724.4H52.4M52.4 717.9V724.4M58.4 711.5H49.9M52.4 721.1H49.9M49.9 711.5V721.1M50.9 692.9H47.4M49.9 716.3H47.4M47.4 692.9V716.3M58.4 730.8H53.4M58.4 737.3H53.4M53.4 730.8V737.3M58.4 750.2H54.4M58.4 756.6H54.4M54.4 750.2V756.6M58.4 743.7H51.4M54.4 753.4H51.4M51.4 743.7V753.4M51.4 748.5H48.4M58.4 763.1H48.4M48.4 748.5V763.1M53.4 734.0H45.4M48.4 755.8H45.4M45.4 734.0V755.8M47.4 704.6H41.9M45.4 744.9H41.9M41.9 704.6V744.9M44.6 577.2H40.4M41.9 724.8H40.4M40.4 577.2V724.8M58.4 769.5H51.4M58.4 776.0H51.4M51.4 769.5V776.0M58.4 795.3H55.4M58.4 801.8H55.4M55.4 795.3V801.8M58.4 788.9H51.4M55.4 798.5H51.4M51.4 788.9V798.5M58.4 782.4H48.4M51.4 793.7H48.4M48.4 782.4V793.7M51.4 772.7H44.9M48.4 788.1H44.9M44.9 772.7V788.1M58.4 814.7H50.4M58.4 821.1H50.4M50.4 814.7V821.1M58.4 808.2H44.4M50.4 817.9H44.4M44.4 808.2V817.9M58.4 827.6H48.4M58.4 834.0H48.4M48.4 827.6V834.0M58.4 840.5H50.4M58.4 846.9H50.4M50.4 840.5V846.9M58.4 859.8H52.4M58.4 866.3H52.4M52.4 859.8V866.3M58.4 853.4H49.4M52.4 863.0H49.4M49.4 853.4V863.0M50.4 843.7H45.4M49.4 858.2H45.4M45.4 843.7V858.2M48.4 830.8H42.4M45.4 851.0H42.4M42.4 830.8V851.0M44.4 813.1H40.9M42.4 840.9H40.9M40.9 813.1V840.9M44.9 780.4H39.4M40.9 827.0H39.4M39.4 780.4V827.0M40.4 651.0H34.4M39.4 803.7H34.4M34.4 651.0V803.7" fill="none" stroke="#2a2a2a" stroke-width="0.5"/></svg>
<div class="rl" style="left:362.05px;top:548.75px;font-size:19.2px;line-height:25.740px;transform:scale(0.25);transform-origin:0 0;text-rendering:geometricPrecision">
<div>4-[(2,4-Dihydroxy-3,3-dimethylbutanoyl)amino]butanoic acid</div>
<div>3,4-Dihydro-2H-1-benzopyran-2-one</div>
<div>4-Guanidinobutanamide</div>
<div>2-Hydroxycinnamic acid</div>
<div>Benzofuran</div>
<div>TETRAHYDRO-2-THIOPHENECARBOXYLIC ACID</div>
<div>L-Proline</div>
<div>Indoleacrylic acid</div>
<div>lysine phosphoester</div>
<div>N-Acetylmannosamine</div>
<div>Valganciclovir</div>
<div>D-Fructose</div>
<div>Avenin</div>
<div>L-Homoserine</div>
<div>L-Lysine</div>
<div>beta-Alanine</div>
<div>L-Histidine</div>
<div>Piperidine</div>
<div>L-Alloisoleucine</div>
<div>2-Heptanethiol</div>
<div>(5Z,8Z,11Z,14Z,17Z)-Icosa-5,8,11,14,17-pentaenoylcarnitine</div>
<div>12-MethylHexadecanoylcarnitine</div>
<div>Stearoylcarnitine</div>
<div>3-Hydroxyeicosanoylcarnitine</div>
<div>Oleoylcarnitine</div>
<div>Pentafluoropropionic acid</div>
<div>Uridine 5'-monophosphate</div>
<div>Ophthalmic acid</div>
<div>4-Oxo-2-nonenal</div>
<div>Elaeokanine C</div>
<div>Citicoline</div>
<div>PGP(18:0/20:3(8Z,11Z,14Z))</div>
<div>2-Aminomuconic acid semialdehyde</div>
<div>Valylvaline</div>
<div>N1-Acetylspermine</div>
<div>Decanoylcholine</div>
<div>Formiminoglutamic acid</div>
<div>Docosapentaenoic acid (22n-3)</div>
<div>Docosapentaenoic acid (22n-6)</div>
<div>1-pentadecanoyl-glycero-3-phosphate</div>
<div>PE(20:3(8Z,11Z,14Z)/18:0)</div>
<div>Sulfate</div>
<div>FAD</div>
<div>5'-Butyrylphosphouridine</div>
<div>1-(2-methoxy-7Z,21Z-octacosadienyl)-sn-glycero-3-phosphoserine</div>
<div>Pyropheophorbide a</div>
<div>LysoPE(0:0/22:2(13Z,16Z))</div>
<div>PI-Cer(d18:0/18:0)</div>
<div>Kanokoside D</div>
<div>Pro-Ile</div>
</div>
<div class="gl" style="left:362.05px;top:540.57px;font-size:4.8px;line-height:6.451px">Group</div>
<div class="cl" style="left:69.46px;top:872.90px;font-size:7.0px">MN1</div>
<div class="cl" style="left:90.97px;top:872.90px;font-size:7.0px">MN2</div>
<div class="cl" style="left:112.48px;top:872.90px;font-size:7.0px">MN3</div>
<div class="cl" style="left:133.99px;top:872.90px;font-size:7.0px">MN4</div>
<div class="cl" style="left:155.50px;top:872.90px;font-size:7.0px">MN5</div>
<div class="cl" style="left:177.01px;top:872.90px;font-size:7.0px">MN6</div>
<div class="cl" style="left:198.52px;top:872.90px;font-size:7.0px">MN7</div>
<div class="cl" style="left:220.03px;top:872.90px;font-size:7.0px">MM1</div>
<div class="cl" style="left:241.54px;top:872.90px;font-size:7.0px">MM2</div>
<div class="cl" style="left:263.05px;top:872.90px;font-size:7.0px">MM3</div>
<div class="cl" style="left:284.56px;top:872.90px;font-size:7.0px">MM4</div>
<div class="cl" style="left:306.07px;top:872.90px;font-size:7.0px">MM5</div>
<div class="cl" style="left:327.58px;top:872.90px;font-size:7.0px">MM6</div>
<div class="cl" style="left:349.09px;top:872.90px;font-size:7.0px">MM7</div>
<div class="lg" style="left:495.70px;top:55.70px;width:5.30px;height:83.00px"></div>
<div class="tk" style="left:503.60px;top:62.40px;font-size:5.5px">2</div>
<div class="tk" style="left:503.60px;top:78.10px;font-size:5.5px">1</div>
<div class="tk" style="left:503.60px;top:93.30px;font-size:5.5px">0</div>
<div class="tk" style="left:503.60px;top:109.00px;font-size:5.5px">-1</div>
<div class="tk" style="left:503.60px;top:124.30px;font-size:5.5px">-2</div>
<div class="gt" style="left:511.20px;top:54.00px;font-size:5.17px">Group</div>
<div class="sw" style="left:511.20px;top:61.60px;width:8.00px;height:8.00px;background:#cc1e1e"></div>
<div class="tk" style="left:520.80px;top:61.60px;font-size:5.5px">MNP</div>
<div class="sw" style="left:511.20px;top:69.60px;width:8.00px;height:8.00px;background:#ffd400"></div>
<div class="tk" style="left:520.80px;top:69.60px;font-size:5.5px">Mcontrol</div>
<div class="lg" style="left:507.20px;top:539.20px;width:5.70px;height:80.70px"></div>
<div class="tk" style="left:515.50px;top:549.00px;font-size:5.3px">2</div>
<div class="tk" style="left:515.50px;top:562.40px;font-size:5.3px">1</div>
<div class="tk" style="left:515.50px;top:576.00px;font-size:5.3px">0</div>
<div class="tk" style="left:515.50px;top:589.80px;font-size:5.3px">-1</div>
<div class="tk" style="left:515.50px;top:603.50px;font-size:5.3px">-2</div>
<div class="gt" style="left:522.10px;top:537.90px;font-size:4.98px">Group</div>
<div class="sw" style="left:522.10px;top:545.50px;width:8.00px;height:8.00px;background:#cc1e1e"></div>
<div class="tk" style="left:532.30px;top:545.50px;font-size:5.3px">MNP</div>
<div class="sw" style="left:522.10px;top:553.50px;width:8.00px;height:8.00px;background:#1414e0"></div>
<div class="tk" style="left:532.30px;top:553.50px;font-size:5.3px">MMC</div>
</body></html>
